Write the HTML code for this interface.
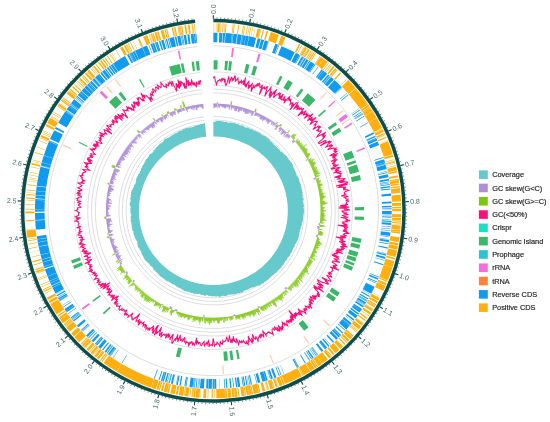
<!DOCTYPE html>
<html><head><meta charset="utf-8"><title>Genome circle map</title>
<style>html,body{margin:0;padding:0;background:#fff}svg{display:block}</style></head>
<body><svg width="550" height="422" viewBox="0 0 550 422" font-family="'Liberation Sans', sans-serif"><rect width="550" height="422" fill="#fff"/><g fill="none" transform="translate(213.35 0) scale(1.0022 1) translate(-213.25 0)"><path d="M213.25 45.80A164.90 164.90 0 1 1 197.50 46.55" stroke="#d0d0d0" stroke-width="0.70"/><path d="M213.25 71.90A138.80 138.80 0 1 1 199.99 72.53" stroke="#d0d0d0" stroke-width="0.70"/><path d="M213.25 85.40A125.30 125.30 0 1 1 201.28 85.97" stroke="#d0d0d0" stroke-width="0.70"/><path d="M213.25 89.10A121.60 121.60 0 1 1 201.64 89.66" stroke="#d0d0d0" stroke-width="0.70"/><path d="M213.25 92.90A117.80 117.80 0 1 1 202.00 93.44" stroke="#d0d0d0" stroke-width="0.70"/><path d="M213.25 116.50A94.20 94.20 0 1 1 204.25 116.93" stroke="#d0d0d0" stroke-width="0.70"/><path d="M213.25 120.00A90.70 90.70 0 1 1 204.59 120.41" stroke="#d0d0d0" stroke-width="0.70"/><path d="M213.25 123.60A87.10 87.10 0 1 1 204.93 124.00" stroke="#d0d0d0" stroke-width="0.70"/><path d="M213.25 20.45A190.25 190.25 0 1 1 195.08 21.32" stroke="#0d4d4b" stroke-width="3.50"/><path d="M213.25 18.70L213.25 15.30M216.91 18.73L216.93 17.34M220.56 18.84L220.62 17.44M224.22 19.01L224.30 17.62M227.87 19.26L227.97 17.86M231.51 19.57L231.64 18.18M235.15 19.95L235.31 18.56M238.78 20.40L238.96 19.02M242.40 20.93L242.61 19.54M246.01 21.52L246.25 20.14M249.61 22.17L250.25 18.83M253.19 22.90L253.48 21.53M256.76 23.70L257.08 22.33M260.31 24.56L260.66 23.20M263.85 25.49L264.22 24.14M267.37 26.49L267.77 25.14M270.87 27.55L271.29 26.21M274.35 28.68L274.79 27.35M277.81 29.88L278.28 28.56M281.24 31.14L281.73 29.83M284.65 32.47L285.91 29.31M288.03 33.86L288.57 32.57M291.38 35.32L291.95 34.04M294.71 36.84L295.30 35.57M298.01 38.42L298.63 37.16M301.27 40.07L301.92 38.82M304.51 41.77L305.17 40.54M307.71 43.54L308.40 42.32M310.88 45.37L311.59 44.17M314.01 47.26L314.74 46.07M317.10 49.21L318.94 46.35M320.16 51.22L320.94 50.06M323.18 53.28L323.98 52.14M326.16 55.41L326.98 54.27M329.10 57.59L329.94 56.47M331.99 59.82L332.86 58.72M334.84 62.11L335.73 61.03M337.65 64.45L338.56 63.39M340.42 66.85L341.34 65.80M343.13 69.30L344.08 68.27M345.80 71.80L348.15 69.34M348.42 74.35L349.41 73.35M351.00 76.95L352.00 75.97M353.52 79.60L354.54 78.64M355.99 82.29L357.03 81.36M358.41 85.03L359.47 84.12M360.78 87.82L361.86 86.93M363.09 90.65L364.19 89.78M365.35 93.53L366.46 92.68M367.56 96.45L368.68 95.62M369.71 99.41L372.48 97.44M371.80 102.41L372.95 101.62M373.83 105.45L375.00 104.68M375.81 108.53L376.99 107.78M377.72 111.64L378.92 110.92M379.58 114.79L380.79 114.10M381.38 117.98L382.60 117.30M383.11 121.20L384.35 120.55M384.79 124.45L386.04 123.82M386.40 127.74L387.66 127.13M387.95 131.05L391.04 129.64M389.43 134.39L390.72 133.83M390.86 137.76L392.15 137.23M392.21 141.16L393.52 140.65M393.51 144.58L394.82 144.10M394.73 148.02L396.06 147.57M395.89 151.49L397.22 151.06M396.99 154.98L398.33 154.58M398.02 158.49L399.36 158.11M398.98 162.02L400.33 161.67M399.87 165.57L403.18 164.77M400.70 169.13L402.06 168.83M401.45 172.71L402.83 172.43M402.14 176.30L403.52 176.05M402.76 179.91L404.15 179.68M403.32 183.52L404.70 183.32M403.80 187.15L405.19 186.98M404.21 190.78L405.61 190.64M404.56 194.42L405.95 194.30M404.83 198.07L406.23 197.98M405.04 201.72L408.44 201.56M405.18 205.38L406.58 205.34M405.24 209.03L406.64 209.02M405.24 212.69L406.64 212.71M405.17 216.35L406.57 216.39M405.02 220.00L406.42 220.07M404.81 223.66L406.21 223.75M404.53 227.30L405.93 227.42M404.18 230.94L405.57 231.09M403.76 234.58L405.15 234.75M403.27 238.20L406.64 238.69M402.71 241.82L404.09 242.04M402.08 245.42L403.46 245.67M401.39 249.01L402.76 249.29M400.63 252.59L401.99 252.89M399.79 256.15L401.15 256.48M398.89 259.69L400.25 260.05M397.93 263.22L399.27 263.60M396.89 266.73L398.23 267.14M395.79 270.22L397.12 270.65M394.63 273.68L397.84 274.80M393.39 277.13L394.71 277.61M392.09 280.55L393.40 281.06M390.73 283.94L392.03 284.48M389.30 287.31L390.59 287.87M387.81 290.65L389.09 291.23M386.26 293.96L387.52 294.57M384.64 297.24L385.89 297.87M382.96 300.49L384.20 301.14M381.22 303.71L382.44 304.38M379.42 306.89L382.36 308.59M377.56 310.04L378.75 310.76M375.63 313.15L376.82 313.90M373.65 316.22L374.82 316.99M371.61 319.26L372.77 320.05M369.52 322.26L370.66 323.07M367.36 325.21L368.49 326.05M365.15 328.13L366.26 328.98M362.89 331.00L363.98 331.88M360.57 333.83L361.64 334.73M358.20 336.61L360.76 338.84M355.77 339.35L356.81 340.29M353.30 342.04L354.32 343.00M350.77 344.69L351.77 345.66M348.19 347.28L349.18 348.28M345.57 349.83L346.53 350.84M342.89 352.32L343.84 353.36M340.17 354.77L341.10 355.82M337.40 357.16L338.31 358.23M334.59 359.50L335.48 360.58M331.73 361.78L333.83 364.46M328.83 364.01L329.68 365.13M325.89 366.18L326.71 367.32M322.91 368.30L323.71 369.45M319.89 370.36L320.67 371.53M316.83 372.37L317.58 373.54M313.73 374.31L314.46 375.50M310.59 376.19L311.30 377.40M307.42 378.02L308.11 379.24M304.22 379.78L304.88 381.01M300.98 381.48L302.54 384.51M297.71 383.12L298.33 384.38M294.41 384.70L295.01 385.97M291.08 386.22L291.65 387.50M287.73 387.67L288.27 388.96M284.34 389.05L284.86 390.35M280.93 390.38L281.43 391.69M277.50 391.63L277.97 392.95M274.04 392.82L274.48 394.15M270.56 393.95L270.98 395.28M267.06 395.01L268.01 398.27M263.54 396.00L263.90 397.35M260.00 396.92L260.34 398.28M256.44 397.78L256.76 399.14M252.87 398.57L253.16 399.94M249.28 399.29L249.55 400.66M245.69 399.94L245.92 401.32M242.08 400.52L242.29 401.91M238.45 401.04L238.64 402.43M234.82 401.48L234.98 402.88M231.19 401.86L231.50 405.25M227.54 402.17L227.64 403.56M223.89 402.40L223.97 403.80M220.24 402.57L220.29 403.97M216.58 402.67L216.61 404.07M212.92 402.70L212.92 404.10M209.27 402.66L209.24 404.06M205.61 402.55L205.55 403.95M201.96 402.37L201.87 403.77M198.31 402.12L198.20 403.51M194.66 401.80L194.34 405.18M191.03 401.41L190.87 402.80M187.40 400.95L187.21 402.34M183.78 400.42L183.56 401.81M180.17 399.83L179.93 401.21M176.57 399.16L176.31 400.54M172.99 398.43L172.70 399.80M169.42 397.63L169.10 398.99M165.87 396.76L165.52 398.12M162.33 395.83L161.96 397.18M158.82 394.82L157.85 398.08M155.32 393.75L154.90 395.09M151.84 392.61L151.39 393.94M148.39 391.41L147.91 392.73M144.96 390.14L144.46 391.45M141.55 388.81L141.03 390.11M138.17 387.41L137.62 388.70M134.82 385.95L134.25 387.23M131.49 384.42L130.90 385.69M128.20 382.84L127.58 384.09M124.94 381.18L123.37 384.20M121.70 379.47L121.04 380.70M118.51 377.70L117.82 378.91M115.34 375.86L114.63 377.07M112.21 373.97L111.48 375.16M109.12 372.01L108.36 373.19M106.07 370.00L105.29 371.16M103.05 367.93L102.25 369.07M100.08 365.80L99.25 366.93M97.14 363.62L96.30 364.73M94.25 361.38L92.15 364.05M91.40 359.08L90.52 360.16M88.60 356.73L87.69 357.80M85.84 354.33L84.91 355.38M83.13 351.88L82.18 352.91M80.46 349.38L79.49 350.39M77.84 346.82L76.86 347.81M75.28 344.22L74.27 345.19M72.76 341.57L71.73 342.52M70.29 338.87L69.25 339.80M67.87 336.12L65.30 338.34M65.51 333.33L64.43 334.22M63.20 330.49L62.11 331.36M60.95 327.61L59.84 328.46M58.75 324.69L57.62 325.52M56.60 321.72L55.46 322.53M54.52 318.72L53.36 319.51M52.49 315.68L51.32 316.44M50.52 312.60L49.33 313.34M48.61 309.48L47.41 310.20M46.76 306.32L43.81 308.02M44.96 303.13L43.74 303.81M43.23 299.91L41.99 300.56M41.57 296.66L40.31 297.28M39.96 293.37L38.70 293.97M38.42 290.05L37.14 290.63M36.94 286.71L35.65 287.26M35.52 283.34L34.22 283.87M34.17 279.94L32.86 280.44M32.88 276.51L31.57 276.99M31.66 273.07L28.45 274.17M30.51 269.60L29.17 270.03M29.42 266.10L28.08 266.51M28.40 262.59L27.05 262.97M27.44 259.06L26.09 259.41M26.55 255.51L25.19 255.84M25.73 251.95L24.37 252.25M24.98 248.37L23.61 248.64M24.30 244.78L22.92 245.02M23.68 241.17L22.30 241.39M23.14 237.55L19.77 238.03M22.66 233.93L21.27 234.10M22.25 230.29L20.86 230.44M21.91 226.65L20.52 226.77M21.64 223.00L20.25 223.09M21.44 219.35L20.05 219.41M21.32 215.70L19.92 215.73M21.25 212.04L19.85 212.05M21.26 208.38L19.86 208.36M21.34 204.72L19.94 204.68M21.49 201.07L18.10 200.90M21.71 197.42L20.31 197.32M22.00 193.77L20.60 193.65M22.35 190.13L20.96 189.98M22.78 186.50L21.39 186.32M23.28 182.88L21.89 182.67M23.84 179.26L22.46 179.03M24.47 175.66L23.10 175.40M25.18 172.07L23.80 171.79M25.95 168.49L24.58 168.19M26.78 164.93L23.48 164.12M27.69 161.39L26.34 161.03M28.66 157.86L27.32 157.48M29.70 154.36L28.36 153.95M30.81 150.87L29.48 150.44M31.98 147.41L30.66 146.95M33.22 143.97L31.91 143.48M34.52 140.55L33.22 140.04M35.89 137.16L34.60 136.62M37.33 133.79L36.04 133.23M38.82 130.45L35.73 129.03M40.38 127.15L39.12 126.54M42.01 123.87L40.76 123.24M43.69 120.62L42.46 119.97M45.44 117.41L44.21 116.73M47.25 114.23L46.04 113.53M49.11 111.08L47.92 110.36M51.04 107.98L49.86 107.23M53.03 104.90L51.86 104.13M55.07 101.87L53.92 101.08M57.17 98.88L54.41 96.90M59.33 95.93L58.21 95.09M61.55 93.01L60.44 92.16M63.82 90.15L62.73 89.27M66.14 87.32L65.07 86.42M68.52 84.54L67.46 83.62M70.95 81.81L69.91 80.87M73.43 79.12L72.41 78.16M75.96 76.48L74.96 75.50M78.54 73.89L77.56 72.89M81.17 71.35L78.83 68.88M83.85 68.86L82.91 67.82M86.58 66.42L85.65 65.37M89.35 64.03L88.44 62.96M92.16 61.70L91.28 60.61M95.02 59.42L94.16 58.31M97.93 57.19L97.09 56.07M100.87 55.02L100.05 53.89M103.86 52.91L103.06 51.76M106.88 50.86L106.11 49.69M109.95 48.86L108.12 45.99M113.05 46.92L112.32 45.73M116.19 45.04L115.48 43.83M119.36 43.22L118.68 42.00M122.57 41.46L121.91 40.23M125.81 39.77L125.17 38.52M129.08 38.13L128.47 36.87M132.38 36.56L131.79 35.29M135.71 35.05L135.15 33.77M139.07 33.61L138.53 32.32M142.46 32.23L141.21 29.07M145.87 30.91L145.38 29.60M149.31 29.66L148.84 28.34M152.77 28.47L152.33 27.15M156.25 27.36L155.84 26.02M159.76 26.30L159.37 24.96M163.28 25.32L162.91 23.97M166.82 24.40L166.48 23.04M170.38 23.55L170.06 22.18M173.95 22.77L173.66 21.39M177.54 22.05L176.90 18.71M181.14 21.40L180.90 20.02M184.75 20.83L184.54 19.44M188.37 20.32L188.19 18.93M192.00 19.88L191.85 18.49" stroke="#0d4d4b" stroke-width="0.6"/><path d="M213.25 18.70L213.25 15.30M249.61 22.17L250.25 18.83M284.65 32.47L285.91 29.31M317.10 49.21L318.94 46.35M345.80 71.80L348.15 69.34M369.71 99.41L372.48 97.44M387.95 131.05L391.04 129.64M399.87 165.57L403.18 164.77M405.04 201.72L408.44 201.56M403.27 238.20L406.64 238.69M394.63 273.68L397.84 274.80M379.42 306.89L382.36 308.59M358.20 336.61L360.76 338.84M331.73 361.78L333.83 364.46M300.98 381.48L302.54 384.51M267.06 395.01L268.01 398.27M231.19 401.86L231.50 405.25M194.66 401.80L194.34 405.18M158.82 394.82L157.85 398.08M124.94 381.18L123.37 384.20M94.25 361.38L92.15 364.05M67.87 336.12L65.30 338.34M46.76 306.32L43.81 308.02M31.66 273.07L28.45 274.17M23.14 237.55L19.77 238.03M21.49 201.07L18.10 200.90M26.78 164.93L23.48 164.12M38.82 130.45L35.73 129.03M57.17 98.88L54.41 96.90M81.17 71.35L78.83 68.88M109.95 48.86L108.12 45.99M142.46 32.23L141.21 29.07M177.54 22.05L176.90 18.71" stroke="#0d4d4b" stroke-width="1.0"/><g font-size="7" fill="#476767" stroke="none"><text x="213.25" y="14.10" transform="rotate(-90.00 213.25 14.10)" text-anchor="start" dy="0.36em">0.0</text><text x="250.48" y="17.66" transform="rotate(-79.08 250.48 17.66)" text-anchor="start" dy="0.36em">0.1</text><text x="286.36" y="28.20" transform="rotate(-68.17 286.36 28.20)" text-anchor="start" dy="0.36em">0.2</text><text x="319.59" y="45.34" transform="rotate(-57.25 319.59 45.34)" text-anchor="start" dy="0.36em">0.3</text><text x="348.98" y="68.47" transform="rotate(-46.34 348.98 68.47)" text-anchor="start" dy="0.36em">0.4</text><text x="373.45" y="96.74" transform="rotate(-35.42 373.45 96.74)" text-anchor="start" dy="0.36em">0.5</text><text x="392.13" y="129.14" transform="rotate(-24.51 392.13 129.14)" text-anchor="start" dy="0.36em">0.6</text><text x="404.34" y="164.49" transform="rotate(-13.59 404.34 164.49)" text-anchor="start" dy="0.36em">0.7</text><text x="409.63" y="201.51" transform="rotate(-2.68 409.63 201.51)" text-anchor="start" dy="0.36em">0.8</text><text x="407.82" y="238.86" transform="rotate(8.24 407.82 238.86)" text-anchor="start" dy="0.36em">0.9</text><text x="398.97" y="275.19" transform="rotate(19.15 398.97 275.19)" text-anchor="start" dy="0.36em">1.0</text><text x="383.40" y="309.19" transform="rotate(30.07 383.40 309.19)" text-anchor="start" dy="0.36em">1.1</text><text x="361.67" y="339.63" transform="rotate(40.98 361.67 339.63)" text-anchor="start" dy="0.36em">1.2</text><text x="334.57" y="365.40" transform="rotate(51.90 334.57 365.40)" text-anchor="start" dy="0.36em">1.3</text><text x="303.08" y="385.57" transform="rotate(62.81 303.08 385.57)" text-anchor="start" dy="0.36em">1.4</text><text x="268.35" y="399.42" transform="rotate(73.73 268.35 399.42)" text-anchor="start" dy="0.36em">1.5</text><text x="231.62" y="406.44" transform="rotate(84.64 231.62 406.44)" text-anchor="start" dy="0.36em">1.6</text><text x="194.22" y="406.38" transform="rotate(-84.44 194.22 406.38)" text-anchor="end" dy="0.36em">1.7</text><text x="157.51" y="399.23" transform="rotate(-73.53 157.51 399.23)" text-anchor="end" dy="0.36em">1.8</text><text x="122.82" y="385.27" transform="rotate(-62.61 122.82 385.27)" text-anchor="end" dy="0.36em">1.9</text><text x="91.40" y="364.99" transform="rotate(-51.70 91.40 364.99)" text-anchor="end" dy="0.36em">2.0</text><text x="64.39" y="339.12" transform="rotate(-40.78 64.39 339.12)" text-anchor="end" dy="0.36em">2.1</text><text x="42.77" y="308.61" transform="rotate(-29.87 42.77 308.61)" text-anchor="end" dy="0.36em">2.2</text><text x="27.31" y="274.56" transform="rotate(-18.95 27.31 274.56)" text-anchor="end" dy="0.36em">2.3</text><text x="18.58" y="238.20" transform="rotate(-8.04 18.58 238.20)" text-anchor="end" dy="0.36em">2.4</text><text x="16.90" y="200.84" transform="rotate(2.88 16.90 200.84)" text-anchor="end" dy="0.36em">2.5</text><text x="22.32" y="163.84" transform="rotate(13.79 22.32 163.84)" text-anchor="end" dy="0.36em">2.6</text><text x="34.64" y="128.53" transform="rotate(24.71 34.64 128.53)" text-anchor="end" dy="0.36em">2.7</text><text x="53.43" y="96.20" transform="rotate(35.62 53.43 96.20)" text-anchor="end" dy="0.36em">2.8</text><text x="78.01" y="68.01" transform="rotate(46.54 78.01 68.01)" text-anchor="end" dy="0.36em">2.9</text><text x="107.47" y="44.98" transform="rotate(57.45 107.47 44.98)" text-anchor="end" dy="0.36em">3.0</text><text x="140.77" y="27.95" transform="rotate(68.37 140.77 27.95)" text-anchor="end" dy="0.36em">3.1</text><text x="176.68" y="17.53" transform="rotate(79.28 176.68 17.53)" text-anchor="end" dy="0.36em">3.2</text></g><path d="M213.558 27.700A183.0 183.0 0 0 1 214.086 27.702M216.110 27.722A183.0 183.0 0 0 1 216.485 27.729M217.295 27.745A183.0 183.0 0 0 1 219.505 27.807M220.159 27.830A183.0 183.0 0 0 1 220.694 27.851M222.271 27.923A183.0 183.0 0 0 1 223.261 27.974M224.118 28.023A183.0 183.0 0 0 1 224.628 28.054M225.085 28.083A183.0 183.0 0 0 1 226.064 28.149M232.179 28.682A183.0 183.0 0 0 1 232.826 28.750M233.249 28.796A183.0 183.0 0 0 1 234.035 28.884M237.454 29.308A183.0 183.0 0 0 1 238.439 29.442M242.224 30.008A183.0 183.0 0 0 1 243.019 30.138M243.572 30.230A183.0 183.0 0 0 1 244.240 30.343M246.230 30.696A183.0 183.0 0 0 1 246.873 30.815M248.015 31.033A183.0 183.0 0 0 1 248.553 31.138M249.510 31.328A183.0 183.0 0 0 1 250.212 31.472M251.453 31.732A183.0 183.0 0 0 1 251.948 31.838M253.852 32.261A183.0 183.0 0 0 1 254.213 32.344M256.364 32.851A183.0 183.0 0 0 1 259.058 33.526M259.369 33.607A183.0 183.0 0 0 1 259.794 33.718M261.549 34.189A183.0 183.0 0 0 1 262.614 34.484M265.168 35.219A183.0 183.0 0 0 1 266.629 35.658M269.179 36.456A183.0 183.0 0 0 1 277.072 39.190M279.479 40.105A183.0 183.0 0 0 1 283.418 41.687M296.627 47.798A183.0 183.0 0 0 1 298.078 48.548M299.134 49.105A183.0 183.0 0 0 1 299.595 49.351M301.636 50.460A183.0 183.0 0 0 1 302.337 50.848M302.579 50.984A183.0 183.0 0 0 1 304.374 52.001M304.734 52.208A183.0 183.0 0 0 1 305.173 52.462M305.563 52.689A183.0 183.0 0 0 1 306.031 52.964M306.179 53.051A183.0 183.0 0 0 1 307.127 53.614M308.181 54.248A183.0 183.0 0 0 1 308.993 54.744M309.515 55.066A183.0 183.0 0 0 1 310.305 55.557M310.896 55.928A183.0 183.0 0 0 1 311.818 56.514M312.405 56.891A183.0 183.0 0 0 1 313.172 57.388M316.884 59.872A183.0 183.0 0 0 1 317.415 60.239M317.766 60.482A183.0 183.0 0 0 1 320.687 62.557M320.845 62.672A183.0 183.0 0 0 1 324.599 65.475M325.463 66.141A183.0 183.0 0 0 1 325.985 66.548M327.068 67.401A183.0 183.0 0 0 1 327.584 67.813M328.335 68.417A183.0 183.0 0 0 1 328.771 68.771M329.831 69.640A183.0 183.0 0 0 1 331.180 70.766M332.069 71.520A183.0 183.0 0 0 1 333.162 72.460M333.478 72.735A183.0 183.0 0 0 1 334.217 73.382M336.709 75.619A183.0 183.0 0 0 1 337.754 76.582M343.369 82.022A183.0 183.0 0 0 1 343.676 82.333M344.616 83.295A183.0 183.0 0 0 1 351.756 91.096M352.011 91.392A183.0 183.0 0 0 1 363.863 106.755M364.062 107.043A183.0 183.0 0 0 1 365.263 108.812M365.473 109.127A183.0 183.0 0 0 1 366.259 110.315M366.405 110.538A183.0 183.0 0 0 1 368.167 113.284M368.327 113.540A183.0 183.0 0 0 1 372.146 119.920M372.284 120.161A183.0 183.0 0 0 1 377.566 130.144M377.815 130.654A183.0 183.0 0 0 1 378.061 131.161M378.208 131.467A183.0 183.0 0 0 1 379.275 133.728M379.707 134.667A183.0 183.0 0 0 1 380.250 135.867M380.417 136.241A183.0 183.0 0 0 1 380.689 136.854M381.389 138.462A183.0 183.0 0 0 1 381.895 139.652M382.957 142.227A183.0 183.0 0 0 1 383.126 142.647M383.263 142.991A183.0 183.0 0 0 1 387.792 155.710M387.918 156.109A183.0 183.0 0 0 1 388.486 157.962M389.245 160.553A183.0 183.0 0 0 1 389.396 161.086M389.628 161.918A183.0 183.0 0 0 1 389.786 162.490M389.870 162.799A183.0 183.0 0 0 1 390.085 163.601M390.329 164.527A183.0 183.0 0 0 1 390.430 164.914M390.796 166.355A183.0 183.0 0 0 1 390.907 166.801M391.141 167.759A183.0 183.0 0 0 1 391.964 171.326M392.050 171.719A183.0 183.0 0 0 1 392.402 173.369M392.958 176.145A183.0 183.0 0 0 1 393.322 178.094M393.579 179.550A183.0 183.0 0 0 1 393.799 180.849M393.838 181.089A183.0 183.0 0 0 1 394.219 183.513M394.281 183.926A183.0 183.0 0 0 1 394.510 185.523M394.643 186.499A183.0 183.0 0 0 1 394.838 188.014M394.911 188.603A183.0 183.0 0 0 1 395.419 193.283M395.585 195.118A183.0 183.0 0 0 1 396.020 201.519M396.084 202.908A183.0 183.0 0 0 1 396.187 205.886M396.212 206.984A183.0 183.0 0 0 1 396.235 208.378M396.241 208.934A183.0 183.0 0 0 1 396.249 211.223M396.216 214.203A183.0 183.0 0 0 1 396.140 217.054M396.116 217.706A183.0 183.0 0 0 1 396.008 220.110M395.993 220.397A183.0 183.0 0 0 1 395.936 221.420M395.884 222.262A183.0 183.0 0 0 1 395.811 223.364M395.747 224.259A183.0 183.0 0 0 1 395.719 224.636M395.679 225.142A183.0 183.0 0 0 1 395.299 229.331M395.267 229.644A183.0 183.0 0 0 1 395.089 231.280M395.064 231.498A183.0 183.0 0 0 1 394.864 233.181M394.414 236.559A183.0 183.0 0 0 1 393.659 241.383M393.481 242.412A183.0 183.0 0 0 1 393.080 244.616M392.999 245.040A183.0 183.0 0 0 1 392.262 248.695M392.094 249.477A183.0 183.0 0 0 1 390.568 255.947M390.357 256.767A183.0 183.0 0 0 1 389.919 258.418M389.461 260.081A183.0 183.0 0 0 1 387.705 265.968M387.623 266.225A183.0 183.0 0 0 1 383.097 278.824M382.981 279.115A183.0 183.0 0 0 1 382.499 280.296M381.990 281.523A183.0 183.0 0 0 1 381.094 283.620M380.900 284.064A183.0 183.0 0 0 1 378.626 289.056M376.047 294.282A183.0 183.0 0 0 1 375.853 294.660M375.266 295.787A183.0 183.0 0 0 1 373.771 298.574M373.459 299.142A183.0 183.0 0 0 1 372.384 301.063M371.884 301.938A183.0 183.0 0 0 1 371.280 302.979M371.135 303.228A183.0 183.0 0 0 1 370.734 303.908M370.604 304.127A183.0 183.0 0 0 1 369.991 305.153M369.165 306.509A183.0 183.0 0 0 1 368.855 307.013M368.723 307.226A183.0 183.0 0 0 1 367.663 308.912M366.875 310.141A183.0 183.0 0 0 1 365.705 311.925M364.938 313.071A183.0 183.0 0 0 1 364.609 313.557M363.431 315.270A183.0 183.0 0 0 1 362.605 316.445M361.852 317.501A183.0 183.0 0 0 1 361.154 318.466M359.718 320.410A183.0 183.0 0 0 1 359.474 320.734M359.268 321.007A183.0 183.0 0 0 1 357.882 322.819M357.195 323.699A183.0 183.0 0 0 1 354.975 326.471M354.423 327.144A183.0 183.0 0 0 1 354.099 327.535M353.682 328.037A183.0 183.0 0 0 1 353.195 328.617M352.887 328.982A183.0 183.0 0 0 1 352.498 329.439M349.751 332.587A183.0 183.0 0 0 1 348.725 333.726M348.461 334.017A183.0 183.0 0 0 1 346.429 336.209M345.832 336.839A183.0 183.0 0 0 1 344.154 338.579M343.646 339.098A183.0 183.0 0 0 1 343.105 339.645M341.949 340.799A183.0 183.0 0 0 1 341.053 341.678M339.384 343.286A183.0 183.0 0 0 1 336.947 345.563M336.070 346.362A183.0 183.0 0 0 1 332.195 349.772M331.399 350.449A183.0 183.0 0 0 1 329.897 351.705M328.751 352.646A183.0 183.0 0 0 1 328.237 353.062M327.936 353.305A183.0 183.0 0 0 1 325.924 354.900M324.674 355.868A183.0 183.0 0 0 1 319.101 359.980M318.891 360.129A183.0 183.0 0 0 1 315.614 362.392M315.160 362.698A183.0 183.0 0 0 1 314.236 363.313M313.945 363.505A183.0 183.0 0 0 1 312.288 364.584M311.864 364.857A183.0 183.0 0 0 1 307.951 367.291M307.498 367.564A183.0 183.0 0 0 1 300.814 371.391M300.515 371.554A183.0 183.0 0 0 1 299.930 371.869M299.294 372.210A183.0 183.0 0 0 1 283.066 379.859M282.774 379.979A183.0 183.0 0 0 1 281.190 380.621M280.804 380.775A183.0 183.0 0 0 1 277.653 381.993M276.758 382.327A183.0 183.0 0 0 1 276.295 382.497M275.951 382.623A183.0 183.0 0 0 1 274.223 383.244M272.876 383.714A183.0 183.0 0 0 1 272.063 383.992M271.858 384.061A183.0 183.0 0 0 1 268.873 385.042M267.679 385.418A183.0 183.0 0 0 1 267.091 385.600M266.883 385.664A183.0 183.0 0 0 1 266.378 385.818M266.132 385.893A183.0 183.0 0 0 1 265.739 386.011M263.849 386.566A183.0 183.0 0 0 1 261.352 387.265M259.172 387.845A183.0 183.0 0 0 1 257.967 388.152M257.767 388.203A183.0 183.0 0 0 1 252.704 389.396M252.000 389.550A183.0 183.0 0 0 1 250.909 389.783M250.624 389.843A183.0 183.0 0 0 1 248.221 390.327M248.037 390.363A183.0 183.0 0 0 1 245.852 390.772M245.178 390.893A183.0 183.0 0 0 1 244.223 391.060M243.836 391.126A183.0 183.0 0 0 1 240.743 391.623M238.752 391.914A183.0 183.0 0 0 1 237.702 392.059M236.735 392.187A183.0 183.0 0 0 1 234.314 392.484M233.940 392.527A183.0 183.0 0 0 1 231.716 392.766M230.701 392.866A183.0 183.0 0 0 1 227.559 393.140M226.789 393.198A183.0 183.0 0 0 1 225.110 393.315M224.834 393.333A183.0 183.0 0 0 1 216.160 393.677M214.376 393.697A183.0 183.0 0 0 1 213.669 393.700M212.730 393.699A183.0 183.0 0 0 1 211.514 393.692M208.308 393.633A183.0 183.0 0 0 1 207.527 393.610M206.094 393.560A183.0 183.0 0 0 1 203.383 393.434M200.602 393.262A183.0 183.0 0 0 1 200.181 393.233M199.729 393.200A183.0 183.0 0 0 1 195.804 392.866M195.407 392.828A183.0 183.0 0 0 1 193.919 392.676M193.590 392.641A183.0 183.0 0 0 1 192.744 392.547M192.545 392.525A183.0 183.0 0 0 1 191.806 392.439M190.719 392.308A183.0 183.0 0 0 1 190.009 392.218M188.870 392.069A183.0 183.0 0 0 1 185.440 391.575M185.073 391.518A183.0 183.0 0 0 1 184.332 391.401M183.760 391.308A183.0 183.0 0 0 1 179.508 390.562M178.574 390.385A183.0 183.0 0 0 1 176.571 389.987M175.694 389.805A183.0 183.0 0 0 1 171.360 388.841M169.861 388.482A183.0 183.0 0 0 1 168.339 388.104M167.980 388.012A183.0 183.0 0 0 1 164.691 387.140M163.810 386.895A183.0 183.0 0 0 1 162.187 386.432M161.234 386.152A183.0 183.0 0 0 1 159.960 385.769M159.606 385.661A183.0 183.0 0 0 1 157.709 385.068M157.188 384.901A183.0 183.0 0 0 1 152.808 383.430M152.486 383.317A183.0 183.0 0 0 1 119.337 367.765M119.143 367.649A183.0 183.0 0 0 1 106.344 359.226M105.194 358.392A183.0 183.0 0 0 1 104.291 357.727M103.790 357.355A183.0 183.0 0 0 1 102.854 356.651M101.727 355.792A183.0 183.0 0 0 1 99.863 354.339M99.276 353.874A183.0 183.0 0 0 1 97.440 352.393M96.988 352.023A183.0 183.0 0 0 1 96.539 351.652M95.958 351.169A183.0 183.0 0 0 1 95.525 350.807M95.314 350.628A183.0 183.0 0 0 1 93.751 349.296M93.114 348.745A183.0 183.0 0 0 1 92.498 348.207M91.849 347.634A183.0 183.0 0 0 1 89.869 345.852M88.906 344.967A183.0 183.0 0 0 1 88.635 344.715M88.390 344.487A183.0 183.0 0 0 1 86.954 343.132M86.728 342.917A183.0 183.0 0 0 1 85.355 341.589M84.974 341.216A183.0 183.0 0 0 1 84.134 340.384M82.827 339.070A183.0 183.0 0 0 1 77.872 333.833M77.471 333.391A183.0 183.0 0 0 1 74.760 330.322M73.416 328.748A183.0 183.0 0 0 1 69.979 324.552M69.840 324.377A183.0 183.0 0 0 1 69.596 324.068M69.362 323.772A183.0 183.0 0 0 1 68.704 322.930M68.510 322.679A183.0 183.0 0 0 1 67.963 321.969M67.855 321.827A183.0 183.0 0 0 1 67.343 321.154M66.898 320.564A183.0 183.0 0 0 1 64.182 316.849M64.081 316.708A183.0 183.0 0 0 1 62.838 314.936M62.244 314.075A183.0 183.0 0 0 1 61.547 313.048M60.769 311.885A183.0 183.0 0 0 1 54.526 301.780M54.090 301.016A183.0 183.0 0 0 1 52.737 298.589M52.261 297.715A183.0 183.0 0 0 1 51.120 295.570M49.230 291.856A183.0 183.0 0 0 1 49.018 291.427M48.404 290.166A183.0 183.0 0 0 1 48.109 289.550M47.977 289.274A183.0 183.0 0 0 1 47.791 288.882M47.501 288.265A183.0 183.0 0 0 1 47.135 287.478M46.184 285.385A183.0 183.0 0 0 1 45.948 284.855M45.307 283.391A183.0 183.0 0 0 1 45.025 282.736M43.281 278.521A183.0 183.0 0 0 1 43.059 277.962M42.710 277.072A183.0 183.0 0 0 1 42.518 276.576M40.891 272.194A183.0 183.0 0 0 1 40.696 271.644M40.528 271.166A183.0 183.0 0 0 1 40.017 269.687M39.835 269.148A183.0 183.0 0 0 1 39.667 268.649M39.583 268.395A183.0 183.0 0 0 1 39.380 267.779M38.216 264.104A183.0 183.0 0 0 1 37.996 263.380M37.399 261.351A183.0 183.0 0 0 1 37.019 260.013M36.068 256.476A183.0 183.0 0 0 1 35.917 255.890M34.934 251.839A183.0 183.0 0 0 1 34.841 251.434M34.103 248.055A183.0 183.0 0 0 1 33.954 247.331M33.224 243.560A183.0 183.0 0 0 1 33.119 242.979M32.711 240.610A183.0 183.0 0 0 1 32.583 239.826M32.435 238.892A183.0 183.0 0 0 1 32.349 238.336M32.172 237.151A183.0 183.0 0 0 1 31.279 230.080M31.224 229.559A183.0 183.0 0 0 1 31.181 229.136M30.540 221.005A183.0 183.0 0 0 1 30.482 219.921M30.267 213.215A183.0 183.0 0 0 1 30.252 211.514M30.253 209.610A183.0 183.0 0 0 1 30.259 208.888M30.346 204.785A183.0 183.0 0 0 1 30.364 204.246M30.533 200.526A183.0 183.0 0 0 1 30.568 199.909M30.635 198.840A183.0 183.0 0 0 1 30.709 197.753M30.848 195.917A183.0 183.0 0 0 1 30.881 195.514M30.914 195.125A183.0 183.0 0 0 1 30.979 194.386M31.108 192.996A183.0 183.0 0 0 1 31.148 192.593M31.349 190.677A183.0 183.0 0 0 1 31.420 190.038M31.973 185.650A183.0 183.0 0 0 1 32.077 184.907M32.548 181.791A183.0 183.0 0 0 1 32.615 181.375M32.847 179.979A183.0 183.0 0 0 1 32.944 179.417M33.105 178.499A183.0 183.0 0 0 1 33.180 178.083M33.600 175.846A183.0 183.0 0 0 1 33.704 175.311M34.119 173.270A183.0 183.0 0 0 1 34.224 172.769M35.307 167.977A183.0 183.0 0 0 1 35.420 167.507M35.891 165.613A183.0 183.0 0 0 1 36.315 163.979M36.692 162.571A183.0 183.0 0 0 1 36.820 162.104M37.047 161.287A183.0 183.0 0 0 1 37.226 160.654M39.227 154.089A183.0 183.0 0 0 1 39.463 153.367M41.111 148.594A183.0 183.0 0 0 1 41.265 148.169M43.463 142.427A183.0 183.0 0 0 1 43.638 141.991M44.523 139.846A183.0 183.0 0 0 1 44.804 139.182M44.996 138.731A183.0 183.0 0 0 1 45.829 136.814M46.363 135.615A183.0 183.0 0 0 1 46.552 135.197M47.061 134.084A183.0 183.0 0 0 1 47.248 133.678M47.613 132.896A183.0 183.0 0 0 1 47.826 132.444M49.967 128.071A183.0 183.0 0 0 1 50.933 126.189M51.449 125.205A183.0 183.0 0 0 1 54.233 120.132M54.660 119.386A183.0 183.0 0 0 1 54.895 118.979M55.186 118.478A183.0 183.0 0 0 1 55.404 118.106M56.588 116.117A183.0 183.0 0 0 1 56.859 115.669M57.541 114.555A183.0 183.0 0 0 1 57.778 114.172M61.212 108.850A183.0 183.0 0 0 1 61.608 108.261M61.905 107.823A183.0 183.0 0 0 1 62.904 106.368M63.105 106.080A183.0 183.0 0 0 1 63.343 105.738M64.949 103.482A183.0 183.0 0 0 1 65.655 102.511M65.904 102.173A183.0 183.0 0 0 1 66.440 101.449M66.811 100.951A183.0 183.0 0 0 1 67.365 100.217M70.370 96.358A183.0 183.0 0 0 1 72.103 94.225M72.279 94.012A183.0 183.0 0 0 1 72.921 93.240M73.399 92.671A183.0 183.0 0 0 1 74.244 91.678M75.586 90.128A183.0 183.0 0 0 1 76.489 89.105M77.641 87.821A183.0 183.0 0 0 1 78.297 87.102M79.574 85.721A183.0 183.0 0 0 1 79.894 85.379M80.759 84.466A183.0 183.0 0 0 1 81.258 83.944M81.938 83.239A183.0 183.0 0 0 1 82.270 82.899M82.633 82.528A183.0 183.0 0 0 1 83.973 81.176M85.056 80.104A183.0 183.0 0 0 1 85.567 79.605M86.025 79.159A183.0 183.0 0 0 1 86.773 78.440M88.070 77.213A183.0 183.0 0 0 1 89.474 75.910M89.949 75.475A183.0 183.0 0 0 1 90.369 75.093M90.685 74.808A183.0 183.0 0 0 1 92.382 73.296M93.728 72.123A183.0 183.0 0 0 1 94.185 71.731M94.936 71.090A183.0 183.0 0 0 1 95.381 70.715M96.092 70.119A183.0 183.0 0 0 1 97.310 69.113M98.520 68.131A183.0 183.0 0 0 1 99.280 67.522M100.906 66.243A183.0 183.0 0 0 1 102.185 65.257M102.871 64.736A183.0 183.0 0 0 1 104.145 63.781M105.216 62.992A183.0 183.0 0 0 1 106.182 62.291M107.168 61.584A183.0 183.0 0 0 1 107.994 61.000M109.573 59.902A183.0 183.0 0 0 1 110.353 59.368M111.989 58.269A183.0 183.0 0 0 1 112.327 58.045M112.714 57.790A183.0 183.0 0 0 1 113.169 57.492M114.105 56.884A183.0 183.0 0 0 1 114.390 56.701M118.320 54.248A183.0 183.0 0 0 1 118.674 54.034M122.413 51.836A183.0 183.0 0 0 1 124.819 50.485M126.059 49.806A183.0 183.0 0 0 1 127.611 48.975M128.091 48.722A183.0 183.0 0 0 1 128.681 48.413M128.929 48.284A183.0 183.0 0 0 1 129.342 48.070M129.911 47.778A183.0 183.0 0 0 1 130.526 47.465M132.207 46.624A183.0 183.0 0 0 1 132.955 46.256M135.007 45.270A183.0 183.0 0 0 1 135.386 45.091M139.520 43.210A183.0 183.0 0 0 1 139.931 43.030M140.107 42.953A183.0 183.0 0 0 1 141.236 42.465M144.979 40.912A183.0 183.0 0 0 1 146.941 40.136M147.097 40.075A183.0 183.0 0 0 1 148.843 39.409M150.229 38.894A183.0 183.0 0 0 1 150.882 38.656M151.628 38.387A183.0 183.0 0 0 1 152.037 38.241M152.302 38.148A183.0 183.0 0 0 1 153.493 37.731M153.827 37.616A183.0 183.0 0 0 1 154.873 37.261M155.804 36.950A183.0 183.0 0 0 1 157.542 36.385M157.736 36.323A183.0 183.0 0 0 1 158.234 36.166M158.603 36.050A183.0 183.0 0 0 1 159.844 35.666M161.880 35.058A183.0 183.0 0 0 1 164.648 34.272M165.540 34.029A183.0 183.0 0 0 1 166.738 33.709M167.263 33.572A183.0 183.0 0 0 1 168.284 33.310M172.647 32.261A183.0 183.0 0 0 1 173.895 31.982M174.309 31.891A183.0 183.0 0 0 1 174.699 31.807M175.055 31.730A183.0 183.0 0 0 1 176.278 31.474M178.325 31.064A183.0 183.0 0 0 1 178.872 30.958M179.106 30.914A183.0 183.0 0 0 1 180.252 30.700M180.561 30.643A183.0 183.0 0 0 1 181.366 30.499M181.749 30.432A183.0 183.0 0 0 1 182.927 30.230M185.017 29.891A183.0 183.0 0 0 1 186.706 29.635M188.389 29.397A183.0 183.0 0 0 1 190.141 29.165M191.990 28.939A183.0 183.0 0 0 1 192.502 28.880M192.697 28.858A183.0 183.0 0 0 1 193.397 28.780M194.360 28.678A183.0 183.0 0 0 1 195.144 28.598" stroke="#ffb010" stroke-width="9.2"/><path d="M213.250 37.500A173.2 173.2 0 0 1 217.259 37.546M218.984 37.595A173.2 173.2 0 0 1 221.999 37.721M222.536 37.749A173.2 173.2 0 0 1 224.668 37.877M225.160 37.910A173.2 173.2 0 0 1 231.357 38.449M231.609 38.476A173.2 173.2 0 0 1 232.378 38.560M232.724 38.598A173.2 173.2 0 0 1 236.356 39.048M236.910 39.124A173.2 173.2 0 0 1 240.844 39.712M241.221 39.774A173.2 173.2 0 0 1 242.162 39.930M242.367 39.965A173.2 173.2 0 0 1 244.680 40.376M244.858 40.409A173.2 173.2 0 0 1 247.752 40.971M248.059 41.034A173.2 173.2 0 0 1 254.803 42.558M256.411 42.964A173.2 173.2 0 0 1 259.172 43.699M259.757 43.861A173.2 173.2 0 0 1 262.559 44.667M263.237 44.870A173.2 173.2 0 0 1 266.387 45.852M266.628 45.930A173.2 173.2 0 0 1 267.036 46.063M273.455 48.301A173.2 173.2 0 0 1 276.108 49.309M276.543 49.479A173.2 173.2 0 0 1 277.199 49.738M279.460 50.655A173.2 173.2 0 0 1 292.348 56.617M293.339 57.129A173.2 173.2 0 0 1 297.068 59.132M297.375 59.302A173.2 173.2 0 0 1 297.954 59.625M299.319 60.399A173.2 173.2 0 0 1 300.763 61.235M300.909 61.321A173.2 173.2 0 0 1 301.353 61.582M301.939 61.930A173.2 173.2 0 0 1 303.244 62.716M303.689 62.987A173.2 173.2 0 0 1 305.808 64.306M306.370 64.663A173.2 173.2 0 0 1 307.262 65.235M307.670 65.500A173.2 173.2 0 0 1 311.473 68.045M311.689 68.194A173.2 173.2 0 0 1 312.353 68.655M314.759 70.364A173.2 173.2 0 0 1 315.254 70.724M318.498 73.146A173.2 173.2 0 0 1 319.602 73.998M319.814 74.163A173.2 173.2 0 0 1 321.113 75.187M321.303 75.338A173.2 173.2 0 0 1 323.758 77.335M324.703 78.123A173.2 173.2 0 0 1 325.858 79.103M326.139 79.345A173.2 173.2 0 0 1 326.474 79.633M326.614 79.754A173.2 173.2 0 0 1 327.202 80.266M327.608 80.621A173.2 173.2 0 0 1 330.252 82.994M330.934 83.622A173.2 173.2 0 0 1 337.720 90.261M338.043 90.596A173.2 173.2 0 0 1 338.413 90.982M342.978 95.945A173.2 173.2 0 0 1 343.270 96.276M344.196 97.336A173.2 173.2 0 0 1 344.711 97.934M354.847 110.958A173.2 173.2 0 0 1 355.034 111.223M355.681 112.152A173.2 173.2 0 0 1 356.101 112.762M357.029 114.129A173.2 173.2 0 0 1 357.434 114.735M357.943 115.504A173.2 173.2 0 0 1 358.320 116.080M358.485 116.334A173.2 173.2 0 0 1 358.762 116.761M359.752 118.313A173.2 173.2 0 0 1 360.121 118.901M363.540 124.612A173.2 173.2 0 0 1 363.863 125.178M368.678 134.278A173.2 173.2 0 0 1 369.457 135.883M370.298 137.665A173.2 173.2 0 0 1 370.865 138.896M371.234 139.712A173.2 173.2 0 0 1 371.557 140.435M371.644 140.633A173.2 173.2 0 0 1 372.459 142.505M372.782 143.262A173.2 173.2 0 0 1 374.232 146.803M378.379 158.444A173.2 173.2 0 0 1 378.615 159.197M379.040 160.579A173.2 173.2 0 0 1 379.873 163.424M379.918 163.584A173.2 173.2 0 0 1 380.234 164.717M380.287 164.907A173.2 173.2 0 0 1 380.463 165.555M380.570 165.953A173.2 173.2 0 0 1 381.658 170.240M382.096 172.107A173.2 173.2 0 0 1 382.195 172.545M382.351 173.244A173.2 173.2 0 0 1 382.518 174.004M382.765 175.165A173.2 173.2 0 0 1 383.369 178.179M383.644 179.650A173.2 173.2 0 0 1 383.955 181.409M384.097 182.250A173.2 173.2 0 0 1 384.196 182.850M384.282 183.381A173.2 173.2 0 0 1 384.363 183.896M384.499 184.777A173.2 173.2 0 0 1 384.616 185.560M384.778 186.692A173.2 173.2 0 0 1 384.958 188.017M385.086 189.009A173.2 173.2 0 0 1 385.208 189.999M385.647 194.041A173.2 173.2 0 0 1 385.840 196.173M386.223 201.844A173.2 173.2 0 0 1 386.302 203.551M386.385 205.944A173.2 173.2 0 0 1 386.418 207.362M386.434 208.334A173.2 173.2 0 0 1 386.444 209.205M386.450 211.024A173.2 173.2 0 0 1 386.415 214.188M386.406 214.601A173.2 173.2 0 0 1 386.398 214.939M386.383 215.521A173.2 173.2 0 0 1 386.369 216.009M386.352 216.522A173.2 173.2 0 0 1 386.316 217.510M386.232 219.396A173.2 173.2 0 0 1 386.196 220.077M386.165 220.632A173.2 173.2 0 0 1 386.092 221.830M386.050 222.465A173.2 173.2 0 0 1 385.892 224.595M385.763 226.107A173.2 173.2 0 0 1 385.720 226.590M385.567 228.169A173.2 173.2 0 0 1 385.502 228.798M385.375 229.968A173.2 173.2 0 0 1 385.308 230.560M385.160 231.801A173.2 173.2 0 0 1 384.688 235.345M384.585 236.052A173.2 173.2 0 0 1 384.518 236.496M384.180 238.648A173.2 173.2 0 0 1 384.121 239.007M384.033 239.532A173.2 173.2 0 0 1 383.720 241.328M383.488 242.593A173.2 173.2 0 0 1 383.337 243.390M382.716 246.472A173.2 173.2 0 0 1 382.470 247.619M381.379 252.305A173.2 173.2 0 0 1 381.262 252.772M381.125 253.318A173.2 173.2 0 0 1 380.829 254.465M380.509 255.673A173.2 173.2 0 0 1 379.977 257.608M379.604 258.913A173.2 173.2 0 0 1 379.494 259.293M378.426 262.807A173.2 173.2 0 0 1 378.100 263.828M374.064 275.020A173.2 173.2 0 0 1 373.812 275.648M373.503 276.406A173.2 173.2 0 0 1 372.883 277.897M372.180 279.544A173.2 173.2 0 0 1 371.843 280.318M371.511 281.069A173.2 173.2 0 0 1 371.320 281.495M369.843 284.706A173.2 173.2 0 0 1 366.505 291.392M366.089 292.178A173.2 173.2 0 0 1 365.871 292.585M365.280 293.677A173.2 173.2 0 0 1 364.781 294.584M363.945 296.078A173.2 173.2 0 0 1 363.291 297.222M362.922 297.859A173.2 173.2 0 0 1 362.573 298.455M362.390 298.765A173.2 173.2 0 0 1 362.069 299.307M361.685 299.949A173.2 173.2 0 0 1 360.728 301.520M360.636 301.670A173.2 173.2 0 0 1 360.309 302.199M360.049 302.615A173.2 173.2 0 0 1 359.820 302.980M359.496 303.493A173.2 173.2 0 0 1 358.542 304.979M357.655 306.331A173.2 173.2 0 0 1 356.714 307.738M356.601 307.905A173.2 173.2 0 0 1 355.268 309.842M354.707 310.640A173.2 173.2 0 0 1 353.791 311.925M353.333 312.558A173.2 173.2 0 0 1 351.323 315.266M350.239 316.683A173.2 173.2 0 0 1 349.346 317.827M348.888 318.406A173.2 173.2 0 0 1 348.616 318.748M347.494 320.139A173.2 173.2 0 0 1 346.040 321.899M345.809 322.173A173.2 173.2 0 0 1 345.269 322.813M345.163 322.937A173.2 173.2 0 0 1 342.294 326.224M341.623 326.969A173.2 173.2 0 0 1 341.095 327.550M339.422 329.355A173.2 173.2 0 0 1 338.583 330.240M337.287 331.584A173.2 173.2 0 0 1 336.522 332.365M336.294 332.595A173.2 173.2 0 0 1 334.908 333.979M334.332 334.544A173.2 173.2 0 0 1 332.465 336.343M330.456 338.218A173.2 173.2 0 0 1 329.353 339.224M327.120 341.207A173.2 173.2 0 0 1 326.868 341.425M325.987 342.186A173.2 173.2 0 0 1 324.944 343.073M323.801 344.029A173.2 173.2 0 0 1 322.427 345.157M322.217 345.327A173.2 173.2 0 0 1 321.638 345.793M320.041 347.060A173.2 173.2 0 0 1 318.550 348.214M315.007 350.856A173.2 173.2 0 0 1 314.697 351.081M314.466 351.247A173.2 173.2 0 0 1 314.063 351.536M313.571 351.888A173.2 173.2 0 0 1 313.057 352.252M312.253 352.815A173.2 173.2 0 0 1 311.900 353.060M310.717 353.873A173.2 173.2 0 0 1 309.559 354.654M308.984 355.037A173.2 173.2 0 0 1 308.375 355.440M307.147 356.239A173.2 173.2 0 0 1 306.429 356.700M303.054 358.800A173.2 173.2 0 0 1 302.257 359.280M296.324 362.677A173.2 173.2 0 0 1 295.642 363.048M295.466 363.143A173.2 173.2 0 0 1 294.518 363.650M282.092 369.631A173.2 173.2 0 0 1 281.753 369.777M279.490 370.733A173.2 173.2 0 0 1 278.864 370.990M277.756 371.439A173.2 173.2 0 0 1 276.999 371.741M274.404 372.745A173.2 173.2 0 0 1 272.421 373.479M271.172 373.928A173.2 173.2 0 0 1 269.479 374.518M269.085 374.653A173.2 173.2 0 0 1 268.509 374.848M266.092 375.642A173.2 173.2 0 0 1 264.587 376.117M264.366 376.185A173.2 173.2 0 0 1 260.953 377.201M258.935 377.766A173.2 173.2 0 0 1 256.505 378.412M255.749 378.605A173.2 173.2 0 0 1 255.210 378.741M250.790 379.783A173.2 173.2 0 0 1 249.712 380.019M249.090 380.151A173.2 173.2 0 0 1 248.449 380.286M247.572 380.465A173.2 173.2 0 0 1 247.216 380.537M246.540 380.671A173.2 173.2 0 0 1 245.494 380.872M244.314 381.092A173.2 173.2 0 0 1 243.255 381.281M242.772 381.365A173.2 173.2 0 0 1 241.994 381.498M239.479 381.902A173.2 173.2 0 0 1 237.212 382.234M236.598 382.319A173.2 173.2 0 0 1 235.287 382.492M233.390 382.725A173.2 173.2 0 0 1 232.656 382.809M230.896 382.999A173.2 173.2 0 0 1 229.570 383.129M227.012 383.352A173.2 173.2 0 0 1 225.865 383.440M224.698 383.521A173.2 173.2 0 0 1 223.988 383.567M219.425 383.790A173.2 173.2 0 0 1 219.105 383.801M216.178 383.875A173.2 173.2 0 0 1 214.150 383.898M213.845 383.899A173.2 173.2 0 0 1 212.553 383.899M211.809 383.894A173.2 173.2 0 0 1 208.388 383.832M208.027 383.821A173.2 173.2 0 0 1 206.269 383.759M204.131 383.660A173.2 173.2 0 0 1 200.264 383.413M199.473 383.351A173.2 173.2 0 0 1 198.927 383.307M198.357 383.258A173.2 173.2 0 0 1 197.942 383.222M196.958 383.132A173.2 173.2 0 0 1 196.136 383.052M195.150 382.952A173.2 173.2 0 0 1 194.451 382.877M194.064 382.834A173.2 173.2 0 0 1 193.449 382.764M193.123 382.727A173.2 173.2 0 0 1 189.977 382.329M187.105 381.915A173.2 173.2 0 0 1 186.416 381.809M186.085 381.756A173.2 173.2 0 0 1 185.151 381.605M181.485 380.962A173.2 173.2 0 0 1 180.235 380.724M178.716 380.422A173.2 173.2 0 0 1 177.495 380.169M177.280 380.124A173.2 173.2 0 0 1 176.846 380.031M173.787 379.344A173.2 173.2 0 0 1 171.970 378.909M170.935 378.652A173.2 173.2 0 0 1 170.230 378.472M170.011 378.416A173.2 173.2 0 0 1 169.576 378.303M168.647 378.058A173.2 173.2 0 0 1 168.191 377.936M167.510 377.751A173.2 173.2 0 0 1 166.250 377.401M165.094 377.071A173.2 173.2 0 0 1 163.831 376.700M163.527 376.609A173.2 173.2 0 0 1 162.308 376.239M160.868 375.789A173.2 173.2 0 0 1 160.024 375.519M156.255 374.254A173.2 173.2 0 0 1 155.553 374.007M124.532 359.453A173.2 173.2 0 0 1 124.040 359.158M116.032 354.042A173.2 173.2 0 0 1 115.643 353.777M113.552 352.328A173.2 173.2 0 0 1 113.116 352.020M112.801 351.796A173.2 173.2 0 0 1 112.373 351.491M112.217 351.379A173.2 173.2 0 0 1 110.818 350.363M110.266 349.957A173.2 173.2 0 0 1 109.487 349.378M108.910 348.944A173.2 173.2 0 0 1 107.564 347.918M106.106 346.783A173.2 173.2 0 0 1 105.234 346.091M103.791 344.927A173.2 173.2 0 0 1 101.478 343.007M100.296 342.000A173.2 173.2 0 0 1 99.402 341.225M99.116 340.975A173.2 173.2 0 0 1 98.205 340.171M96.605 338.732A173.2 173.2 0 0 1 94.955 337.209M93.840 336.157A173.2 173.2 0 0 1 93.366 335.704M92.335 334.707A173.2 173.2 0 0 1 91.719 334.104M91.197 333.587A173.2 173.2 0 0 1 89.686 332.068M86.329 328.552A173.2 173.2 0 0 1 86.024 328.224M85.873 328.060A173.2 173.2 0 0 1 85.558 327.717M85.248 327.378A173.2 173.2 0 0 1 84.627 326.693M82.309 324.070A173.2 173.2 0 0 1 80.789 322.290M77.773 318.609A173.2 173.2 0 0 1 76.956 317.574M76.553 317.058A173.2 173.2 0 0 1 76.132 316.515M75.876 316.183A173.2 173.2 0 0 1 75.508 315.702M75.292 315.417A173.2 173.2 0 0 1 74.631 314.541M72.284 311.332A173.2 173.2 0 0 1 71.942 310.852M71.001 309.511A173.2 173.2 0 0 1 70.225 308.384M70.098 308.198A173.2 173.2 0 0 1 68.810 306.279M67.700 304.579A173.2 173.2 0 0 1 67.412 304.132M66.710 303.027A173.2 173.2 0 0 1 66.490 302.676M64.120 298.782A173.2 173.2 0 0 1 63.858 298.337M63.743 298.141A173.2 173.2 0 0 1 63.284 297.351M63.130 297.084A173.2 173.2 0 0 1 62.507 295.992M62.138 295.337A173.2 173.2 0 0 1 61.910 294.929M61.417 294.036A173.2 173.2 0 0 1 60.803 292.908M60.336 292.036A173.2 173.2 0 0 1 60.137 291.661M59.906 291.222A173.2 173.2 0 0 1 57.142 285.724M57.040 285.511A173.2 173.2 0 0 1 56.286 283.916M56.103 283.521A173.2 173.2 0 0 1 55.060 281.227M54.990 281.070A173.2 173.2 0 0 1 54.226 279.326M54.120 279.081A173.2 173.2 0 0 1 52.311 274.707M52.239 274.525A173.2 173.2 0 0 1 49.717 267.753M49.362 266.726A173.2 173.2 0 0 1 48.828 265.138M48.754 264.915A173.2 173.2 0 0 1 47.529 261.046M47.439 260.748A173.2 173.2 0 0 1 46.767 258.466M46.658 258.085A173.2 173.2 0 0 1 45.511 253.849M45.459 253.648A173.2 173.2 0 0 1 43.660 245.879M43.594 245.558A173.2 173.2 0 0 1 42.828 241.599M42.800 241.440A173.2 173.2 0 0 1 42.342 238.784M42.285 238.433A173.2 173.2 0 0 1 41.838 235.523M41.048 229.262A173.2 173.2 0 0 1 40.313 220.240M40.281 219.636A173.2 173.2 0 0 1 40.064 212.914M40.053 211.652A173.2 173.2 0 0 1 40.054 209.458M40.057 209.188A173.2 173.2 0 0 1 40.328 200.895M40.341 200.670A173.2 173.2 0 0 1 40.426 199.288M40.472 198.616A173.2 173.2 0 0 1 40.695 195.768M40.723 195.451A173.2 173.2 0 0 1 41.111 191.555M41.136 191.336A173.2 173.2 0 0 1 41.706 186.809M41.756 186.453A173.2 173.2 0 0 1 45.434 167.852M45.588 167.254A173.2 173.2 0 0 1 45.688 166.867M45.748 166.641A173.2 173.2 0 0 1 46.540 163.732M46.607 163.496A173.2 173.2 0 0 1 48.612 156.916M48.705 156.633A173.2 173.2 0 0 1 53.625 143.482M53.746 143.197A173.2 173.2 0 0 1 54.085 142.402M54.704 140.977A173.2 173.2 0 0 1 58.789 132.342M59.540 130.879A173.2 173.2 0 0 1 60.360 129.318M62.662 125.134A173.2 173.2 0 0 1 69.447 114.165M69.625 113.901A173.2 173.2 0 0 1 70.104 113.194M70.323 112.873A173.2 173.2 0 0 1 70.513 112.595M70.848 112.111A173.2 173.2 0 0 1 73.014 109.053M73.114 108.916A173.2 173.2 0 0 1 73.917 107.819M74.168 107.480A173.2 173.2 0 0 1 74.770 106.673M75.067 106.280A173.2 173.2 0 0 1 78.125 102.352M78.790 101.526A173.2 173.2 0 0 1 79.014 101.251M79.522 100.632A173.2 173.2 0 0 1 79.941 100.124M80.295 99.699A173.2 173.2 0 0 1 81.032 98.822M81.549 98.214A173.2 173.2 0 0 1 83.538 95.926M83.670 95.778A173.2 173.2 0 0 1 85.019 94.274M85.385 93.872A173.2 173.2 0 0 1 87.986 91.087M88.207 90.856A173.2 173.2 0 0 1 90.094 88.918M90.283 88.727A173.2 173.2 0 0 1 90.593 88.416M90.768 88.240A173.2 173.2 0 0 1 92.067 86.954M92.256 86.769A173.2 173.2 0 0 1 92.999 86.049M93.384 85.678A173.2 173.2 0 0 1 94.917 84.226M95.459 83.722A173.2 173.2 0 0 1 95.808 83.399M95.979 83.241A173.2 173.2 0 0 1 97.413 81.937M97.830 81.562A173.2 173.2 0 0 1 98.125 81.300M98.363 81.088A173.2 173.2 0 0 1 98.605 80.874M98.727 80.767A173.2 173.2 0 0 1 101.410 78.450M101.545 78.336A173.2 173.2 0 0 1 102.537 77.505M103.366 76.821A173.2 173.2 0 0 1 104.810 75.648M105.240 75.304A173.2 173.2 0 0 1 107.560 73.485M107.965 73.174A173.2 173.2 0 0 1 108.951 72.425M109.817 71.776A173.2 173.2 0 0 1 111.148 70.795M111.757 70.352A173.2 173.2 0 0 1 113.022 69.446M113.447 69.146A173.2 173.2 0 0 1 115.293 67.862M115.683 67.596A173.2 173.2 0 0 1 127.429 60.257M129.401 59.149A173.2 173.2 0 0 1 130.921 58.319M131.312 58.108A173.2 173.2 0 0 1 131.791 57.852M132.048 57.715A173.2 173.2 0 0 1 132.835 57.300M133.011 57.208A173.2 173.2 0 0 1 134.562 56.407M134.767 56.302A173.2 173.2 0 0 1 136.739 55.316M137.060 55.158A173.2 173.2 0 0 1 144.213 51.854M144.451 51.750A173.2 173.2 0 0 1 148.794 49.940M150.289 49.349A173.2 173.2 0 0 1 150.813 49.145M152.121 48.646A173.2 173.2 0 0 1 153.813 48.018M154.049 47.932A173.2 173.2 0 0 1 155.759 47.320M156.492 47.064A173.2 173.2 0 0 1 157.681 46.656M157.840 46.602A173.2 173.2 0 0 1 159.054 46.198M160.345 45.778A173.2 173.2 0 0 1 161.742 45.336M162.530 45.093A173.2 173.2 0 0 1 164.836 44.404M165.806 44.125A173.2 173.2 0 0 1 166.348 43.971M167.048 43.776A173.2 173.2 0 0 1 168.254 43.447M169.062 43.231A173.2 173.2 0 0 1 169.915 43.009M170.497 42.860A173.2 173.2 0 0 1 175.024 41.771M175.781 41.602A173.2 173.2 0 0 1 177.322 41.267M178.040 41.117A173.2 173.2 0 0 1 181.134 40.504M181.800 40.379A173.2 173.2 0 0 1 182.476 40.256M182.891 40.182A173.2 173.2 0 0 1 183.623 40.053M184.340 39.930A173.2 173.2 0 0 1 186.703 39.547M187.918 39.363A173.2 173.2 0 0 1 189.892 39.082M191.202 38.909A173.2 173.2 0 0 1 193.996 38.573M194.237 38.547A173.2 173.2 0 0 1 195.585 38.403M195.901 38.371A173.2 173.2 0 0 1 196.707 38.292" stroke="#109bef" stroke-width="9.6"/><path d="M231.41 52.54A159.20 159.20 0 0 1 233.21 52.76" stroke="#f56edc" stroke-width="8.90"/><path d="M257.11 57.66A159.20 159.20 0 0 1 259.14 58.26" stroke="#f56edc" stroke-width="8.90"/><path d="M331.00 103.55A159.20 159.20 0 0 1 331.81 104.45" stroke="#f56edc" stroke-width="8.90"/><path d="M341.74 116.70A159.20 159.20 0 0 1 343.85 119.66" stroke="#f56edc" stroke-width="8.90"/><path d="M347.42 125.01A159.20 159.20 0 0 1 348.23 126.29" stroke="#f56edc" stroke-width="8.90"/><path d="M359.99 148.96A159.20 159.20 0 0 1 360.57 150.36" stroke="#f56edc" stroke-width="8.90"/><path d="M86.60 307.16A159.20 159.20 0 0 1 85.50 305.70" stroke="#f56edc" stroke-width="8.90"/><path d="M102.97 95.89A159.20 159.20 0 0 1 104.95 94.01" stroke="#f56edc" stroke-width="8.90"/><path d="M178.74 55.29A159.20 159.20 0 0 1 180.22 54.96" stroke="#f56edc" stroke-width="8.90"/><path d="M322.72 95.11A159.20 159.20 0 0 1 323.60 95.95" stroke="#ff8433" stroke-width="8.90" stroke-opacity="0.4"/><path d="M339.00 113.07A159.20 159.20 0 0 1 339.74 114.03" stroke="#ff8433" stroke-width="8.90" stroke-opacity="0.4"/><path d="M344.88 121.16A159.20 159.20 0 0 1 345.56 122.17" stroke="#ff8433" stroke-width="8.90" stroke-opacity="0.4"/><path d="M326.64 322.45A159.20 159.20 0 0 1 325.78 323.31" stroke="#ff8433" stroke-width="8.90" stroke-opacity="0.4"/><path d="M306.65 339.62A159.20 159.20 0 0 1 305.66 340.33" stroke="#ff8433" stroke-width="8.90" stroke-opacity="0.4"/><path d="M271.92 358.70A159.20 159.20 0 0 1 270.79 359.14" stroke="#ff8433" stroke-width="8.90" stroke-opacity="0.4"/><path d="M223.59 369.56A159.20 159.20 0 0 1 222.38 369.64" stroke="#ff8433" stroke-width="8.90" stroke-opacity="0.4"/><path d="M67.14 147.49A159.20 159.20 0 0 1 67.62 146.37" stroke="#ff8433" stroke-width="8.90" stroke-opacity="0.4"/><path d="M109.13 90.27A159.20 159.20 0 0 1 110.05 89.48" stroke="#ff8433" stroke-width="8.90" stroke-opacity="0.4"/><path d="M117.63 83.42A159.20 159.20 0 0 1 118.60 82.69" stroke="#ff8433" stroke-width="8.90" stroke-opacity="0.4"/><path d="M213.53 64.90A145.80 145.80 0 0 1 217.42 64.96" stroke="#3bb769" stroke-width="9.30"/><path d="M224.63 65.34A145.80 145.80 0 0 1 227.39 65.59" stroke="#3bb769" stroke-width="9.30"/><path d="M228.50 65.70A145.80 145.80 0 0 1 231.26 66.02" stroke="#3bb769" stroke-width="9.30"/><path d="M244.94 68.38A145.80 145.80 0 0 1 248.18 69.15" stroke="#3bb769" stroke-width="9.30"/><path d="M252.21 70.20A145.80 145.80 0 0 1 255.68 71.21" stroke="#3bb769" stroke-width="9.30"/><path d="M277.86 80.00A145.80 145.80 0 0 1 280.09 81.13" stroke="#3bb769" stroke-width="9.30"/><path d="M285.46 84.04A145.80 145.80 0 0 1 290.00 86.74" stroke="#3bb769" stroke-width="9.30"/><path d="M298.31 92.29A145.80 145.80 0 0 1 300.33 93.76" stroke="#3bb769" stroke-width="9.30"/><path d="M304.51 96.99A145.80 145.80 0 0 1 311.88 103.32" stroke="#3bb769" stroke-width="9.30"/><path d="M321.09 112.57A145.80 145.80 0 0 1 322.20 113.81" stroke="#3bb769" stroke-width="9.30"/><path d="M331.25 125.06A145.80 145.80 0 0 1 332.86 127.32" stroke="#3bb769" stroke-width="9.30"/><path d="M334.89 130.31A145.80 145.80 0 0 1 337.13 133.82" stroke="#3bb769" stroke-width="9.30"/><path d="M346.93 152.50A145.80 145.80 0 0 1 349.65 159.19" stroke="#3bb769" stroke-width="9.30"/><path d="M350.60 161.80A145.80 145.80 0 0 1 351.42 164.16" stroke="#3bb769" stroke-width="9.30"/><path d="M352.03 166.00A145.80 145.80 0 0 1 354.07 172.93" stroke="#3bb769" stroke-width="9.30"/><path d="M354.90 176.16A145.80 145.80 0 0 1 356.00 181.04" stroke="#3bb769" stroke-width="9.30"/><path d="M359.01 207.21A145.80 145.80 0 0 1 359.05 210.27" stroke="#3bb769" stroke-width="9.30"/><path d="M358.93 216.66A145.80 145.80 0 0 1 358.77 219.71" stroke="#3bb769" stroke-width="9.30"/><path d="M356.49 237.88A145.80 145.80 0 0 1 355.66 241.97" stroke="#3bb769" stroke-width="9.30"/><path d="M355.29 243.59A145.80 145.80 0 0 1 354.29 247.64" stroke="#3bb769" stroke-width="9.30"/><path d="M353.41 250.85A145.80 145.80 0 0 1 352.04 255.37" stroke="#3bb769" stroke-width="9.30"/><path d="M351.69 256.42A145.80 145.80 0 0 1 350.43 260.10" stroke="#3bb769" stroke-width="9.30"/><path d="M349.85 261.66A145.80 145.80 0 0 1 348.96 264.00" stroke="#3bb769" stroke-width="9.30"/><path d="M348.44 265.29A145.80 145.80 0 0 1 346.94 268.87" stroke="#3bb769" stroke-width="9.30"/><path d="M335.51 290.13A145.80 145.80 0 0 1 333.03 293.82" stroke="#3bb769" stroke-width="9.30"/><path d="M331.91 295.41A145.80 145.80 0 0 1 329.28 298.99" stroke="#3bb769" stroke-width="9.30"/><path d="M305.39 323.69A145.80 145.80 0 0 1 301.02 327.12" stroke="#3bb769" stroke-width="9.30"/><path d="M238.70 354.26A145.80 145.80 0 0 1 236.51 354.63" stroke="#3bb769" stroke-width="9.30"/><path d="M232.66 355.20A145.80 145.80 0 0 1 229.91 355.55" stroke="#3bb769" stroke-width="9.30"/><path d="M227.42 355.81A145.80 145.80 0 0 1 223.55 356.14" stroke="#3bb769" stroke-width="9.30"/><path d="M180.78 352.84A145.80 145.80 0 0 1 177.00 351.92" stroke="#3bb769" stroke-width="9.30"/><path d="M107.51 311.09A145.80 145.80 0 0 1 106.37 309.87" stroke="#3bb769" stroke-width="9.30"/><path d="M97.26 299.04A145.80 145.80 0 0 1 96.26 297.71" stroke="#3bb769" stroke-width="9.30"/><path d="M78.82 267.14A145.80 145.80 0 0 1 77.56 264.05" stroke="#3bb769" stroke-width="9.30"/><path d="M76.77 261.98A145.80 145.80 0 0 1 75.63 258.85" stroke="#3bb769" stroke-width="9.30"/><path d="M83.15 144.89A145.80 145.80 0 0 1 83.65 143.90" stroke="#3bb769" stroke-width="9.30"/><path d="M112.35 105.45A145.80 145.80 0 0 1 119.16 99.32" stroke="#3bb769" stroke-width="9.30"/><path d="M121.52 97.38A145.80 145.80 0 0 1 123.91 95.48" stroke="#3bb769" stroke-width="9.30"/><path d="M141.47 83.79A145.80 145.80 0 0 1 142.56 83.18" stroke="#3bb769" stroke-width="9.30"/><path d="M170.50 71.31A145.80 145.80 0 0 1 180.69 68.58" stroke="#3bb769" stroke-width="9.30"/><path d="M181.78 68.34A145.80 145.80 0 0 1 184.22 67.82" stroke="#3bb769" stroke-width="9.30"/><path d="M192.16 66.43A145.80 145.80 0 0 1 194.36 66.13" stroke="#3bb769" stroke-width="9.30"/><path d="M196.29 65.89A145.80 145.80 0 0 1 199.32 65.57" stroke="#3bb769" stroke-width="9.30"/><path d="M213.25 78.34L213.91 76.83L214.58 76.80L215.18 81.02L215.79 82.36L216.35 85.50L217.08 81.65L217.76 80.59L218.39 80.92L219.07 80.13L219.76 79.35L220.36 80.21L220.93 81.53L221.82 77.77L222.32 80.05L223.04 79.12L223.74 78.52L224.16 81.31L225.01 79.07L225.18 84.25L225.70 85.32L226.40 84.61L227.41 81.22L228.51 77.23L229.01 78.63L229.06 83.60L230.04 80.95L231.19 77.29L231.81 77.65L232.03 80.79L233.00 78.71L233.50 79.79L234.87 75.36L235.22 77.38L235.24 81.25L236.07 80.32L236.97 78.99L237.81 78.11L237.90 81.18L238.49 81.56L238.59 84.39L239.85 81.44L240.31 82.41L241.39 80.48L241.52 82.97L242.36 82.18L243.28 81.12L243.06 84.91L245.46 77.70L244.38 84.90L244.86 85.62L246.09 83.38L245.66 87.57L247.65 82.61L248.65 81.43L248.78 83.43L247.86 89.05L249.68 85.02L249.78 86.99L251.15 84.65L252.11 83.72L251.18 88.94L251.01 91.54L253.88 84.66L253.59 87.64L254.18 87.91L255.88 84.89L256.21 85.95L257.85 83.25L257.44 86.40L259.27 83.25L259.70 84.03L259.58 86.26L259.76 87.63L260.74 86.90L262.25 84.84L259.17 94.44L262.66 87.41L263.11 88.05L264.23 87.05L264.25 88.72L264.78 89.14L266.52 86.75L267.27 86.71L265.97 91.29L264.52 96.12L267.26 91.58L268.27 90.93L270.71 87.25L270.56 89.14L269.89 92.08L268.70 96.05L271.74 91.26L269.25 97.78L270.74 96.19L273.66 91.85L273.65 93.31L276.44 89.37L273.11 97.15L273.71 97.36L275.82 94.79L276.47 94.97L277.92 93.69L279.02 93.07L278.72 94.96L280.17 93.76L278.75 97.54L280.18 96.37L279.30 99.14L283.08 94.08L280.76 99.22L281.38 99.44L281.79 100.00L284.91 96.23L283.14 100.28L283.77 100.51L285.50 99.02L283.52 103.25L287.86 97.83L289.39 96.76L288.05 99.95L289.56 98.91L289.41 100.30L290.63 99.71L290.16 101.54L290.73 101.89L289.71 104.44L291.49 103.09L292.41 102.95L291.51 105.28L293.33 103.92L289.65 109.88L295.89 102.76L296.78 102.70L297.60 102.76L293.19 109.44L297.79 104.69L296.69 107.13L298.40 106.06L296.25 109.74L298.77 107.72L299.58 107.78L298.52 110.06L301.16 107.98L300.87 109.33L301.63 109.48L303.67 108.16L297.51 116.10L302.70 111.27L300.79 114.36L303.25 112.63L305.98 110.66L302.97 114.85L303.55 115.19L306.31 113.24L305.99 114.53L307.20 114.24L304.03 118.41L307.79 115.54L309.02 115.24L308.64 116.57L312.38 113.83L309.30 117.77L307.07 120.82L312.20 116.84L309.60 120.21L311.69 119.16L310.72 120.96L315.68 117.33L310.53 122.90L310.08 124.17L314.52 121.10L315.21 121.38L316.34 121.29L316.92 121.69L314.19 124.89L315.60 124.56L314.83 126.07L314.55 127.14L312.61 129.57L318.04 126.00L318.98 126.10L318.39 127.42L320.51 126.60L316.08 130.90L318.13 130.13L317.83 131.19L318.67 131.37L320.75 130.63L320.71 131.48L319.00 133.55L317.11 135.71L316.55 136.90L319.92 135.28L325.56 132.12L321.72 135.60L324.18 134.71L322.01 136.99L324.76 135.93L323.80 137.36L321.68 139.54L318.09 142.63L318.43 143.15L318.76 143.67L324.72 140.66L325.74 140.79L325.27 141.85L320.07 145.78L329.49 140.84L328.26 142.35L331.21 141.38L327.63 144.24L326.75 145.50L325.66 146.87L330.62 144.82L329.63 146.13L332.44 145.34L330.14 147.35L327.26 149.64L330.40 148.71L333.26 147.95L333.78 148.44L335.70 148.21L333.88 149.89L335.74 149.71L333.95 151.34L335.29 151.43L337.01 151.35L329.40 155.71L331.13 155.60L337.32 153.45L332.09 156.58L336.21 155.44L331.95 158.05L334.33 157.72L334.67 158.28L335.19 158.77L330.60 161.41L336.97 159.45L333.81 161.46L334.70 161.80L331.55 163.75L333.78 163.55L333.37 164.40L334.72 164.56L332.44 166.10L338.20 164.65L334.54 166.68L330.96 168.64L331.48 169.11L337.82 167.57L339.19 167.80L335.50 169.73L334.92 170.59L338.57 170.07L335.67 171.68L333.24 173.11L340.88 171.41L337.49 173.13L338.85 173.39L340.91 173.47L340.35 174.31L340.51 174.95L334.21 177.36L340.74 176.24L337.53 177.77L339.18 177.99L337.74 179.03L341.71 178.69L344.91 178.59L342.87 179.76L337.32 181.74L344.11 180.83L339.14 182.62L345.89 181.81L347.32 182.19L346.58 183.03L335.77 185.91L347.09 184.31L339.46 186.46L338.07 187.37L342.79 187.15L345.60 187.31L342.66 188.49L345.28 188.72L342.71 189.80L346.96 189.79L348.46 190.25L345.92 191.30L343.86 192.26L343.97 192.91L344.06 193.55L345.33 194.05L343.49 194.94L340.91 195.89L346.23 195.94L347.30 196.49L344.00 197.50L345.45 198.01L345.30 198.69L347.70 199.14L346.57 199.90L345.78 200.62L348.82 201.07L346.55 201.89L345.86 202.60L346.09 203.24L345.43 203.93L347.57 204.49L339.85 205.48L346.25 205.87L339.18 206.75L348.52 207.13L338.22 208.02L346.36 208.50L343.46 209.20L349.66 209.80L347.31 210.48L341.12 211.12L342.74 211.77L342.59 212.41L347.00 213.13L343.12 213.70L348.01 214.48L345.09 215.05L342.30 215.60L343.58 216.30L347.88 217.15L340.41 217.42L344.30 218.28L346.73 219.08L345.76 219.68L349.79 220.63L345.36 220.97L346.56 221.72L341.58 221.95L343.36 222.76L342.63 223.34L346.93 224.42L342.85 224.66L347.38 225.81L337.39 225.31L347.74 227.20L344.16 227.42L344.15 228.08L346.90 229.12L344.15 229.40L343.50 229.97L346.99 231.16L342.32 231.10L346.89 232.50L348.12 233.39L344.50 233.45L343.57 233.95L342.97 234.51L345.77 235.70L344.65 236.16L339.87 235.89L345.73 237.74L342.72 237.79L335.47 236.91L342.48 239.08L342.67 239.79L339.36 239.70L344.48 241.57L343.59 242.04L338.80 241.55L342.83 243.22L345.69 244.63L341.14 244.14L342.16 245.09L346.99 247.09L341.88 246.38L339.89 246.51L344.30 248.46L340.82 248.14L343.30 249.57L339.85 249.22L336.47 248.86L342.14 251.32L336.40 250.18L336.13 250.76L342.22 253.45L335.70 251.97L336.34 252.86L337.02 253.78L333.98 253.40L333.71 253.97L332.48 254.20L338.41 257.07L331.86 255.30L337.78 258.24L338.15 259.09L336.64 259.21L333.38 258.61L336.79 260.69L339.40 262.47L334.40 261.12L332.67 261.09L332.39 261.67L331.93 262.17L335.04 264.24L336.41 265.57L335.35 265.82L332.45 265.22L336.08 267.62L332.77 266.81L338.42 270.22L329.83 266.84L332.20 268.71L331.77 269.23L332.63 270.39L332.32 270.98L331.35 271.22L331.01 271.78L330.47 272.24L329.13 272.27L331.63 274.36L328.07 273.18L328.50 274.15L331.26 276.43L331.30 277.22L326.27 275.13L327.44 276.55L328.46 277.89L329.26 279.13L330.30 280.53L330.49 281.43L326.88 280.03L321.56 277.52L326.74 281.49L325.35 281.40L328.23 284.01L327.32 284.23L323.38 282.46L322.09 282.39L317.30 279.98L317.78 281.04L318.18 282.07L323.02 286.16L319.78 284.72L316.50 283.20L322.56 288.26L320.28 287.44L318.16 286.71L318.96 288.10L323.24 292.07L313.37 285.54L317.79 289.65L313.27 287.01L314.86 289.03L318.11 292.36L317.42 292.66L319.57 295.21L316.43 293.54L319.33 296.74L317.32 295.97L315.85 295.62L316.11 296.70L314.07 295.84L315.89 298.25L311.66 295.48L314.83 299.10L313.32 298.66L309.96 296.55L310.04 297.49L313.54 301.52L311.49 300.56L308.44 298.63L310.51 301.45L312.28 304.02L308.66 301.50L310.05 303.75L310.49 305.10L308.38 303.97L311.74 308.22L309.09 306.54L307.69 306.09L308.70 308.07L306.13 306.38L304.91 306.07L306.08 308.25L306.39 309.54L304.59 308.60L305.47 310.53L303.53 309.41L304.98 312.00L305.35 313.42L302.56 311.31L301.41 311.01L301.63 312.27L297.64 308.66L299.80 312.17L302.05 315.86L297.81 311.86L299.53 314.95L297.51 313.55L297.03 314.00L294.91 312.41L296.97 316.04L293.98 313.32L295.64 316.50L293.21 314.43L295.57 318.59L288.58 310.45L292.48 316.71L291.11 315.96L293.57 320.42L289.82 316.39L292.18 320.79L289.98 318.85L291.63 322.34L289.37 320.26L289.75 321.98L288.07 320.70L288.57 322.62L286.55 320.79L286.34 321.67L286.62 323.31L287.42 325.77L286.16 325.06L283.93 322.78L284.95 325.66L282.15 322.39L282.46 324.14L282.24 325.06L283.10 327.79L281.27 326.02L282.70 329.79L280.76 327.78L280.97 329.51L277.90 325.43L279.50 329.64L279.77 331.54L276.50 326.95L278.21 331.52L276.32 329.41L274.03 326.47L274.94 329.64L274.44 330.11L272.79 328.33L272.49 329.18L271.84 329.35L271.85 330.86L272.94 334.64L271.60 333.43L270.94 333.59L269.50 332.10L269.16 332.94L267.91 331.80L267.48 332.44L267.17 333.37L266.47 333.42L265.91 333.79L266.00 335.71L264.10 332.90L262.67 331.14L262.91 333.45L263.78 337.40L262.06 334.88L261.10 334.23L261.17 336.25L259.65 334.09L260.16 337.36L258.97 336.05L258.62 337.00L258.14 337.64L257.95 339.13L258.10 341.64L255.54 336.19L255.45 338.01L255.20 339.38L254.07 338.04L252.14 334.13L253.18 339.66L253.10 341.70L251.26 337.90L252.22 343.50L250.79 341.00L249.64 339.43L247.98 335.91L248.99 342.07L247.70 339.84L248.20 344.37L247.34 343.79L246.08 341.54L245.94 343.78L245.23 343.73L244.09 341.82L243.07 340.38L242.79 342.14L242.19 342.51L241.16 340.88L240.86 342.66L240.03 341.93L239.09 340.64L238.90 343.07L238.52 344.69L237.05 340.42L236.14 339.04L236.10 342.58L235.30 341.79L234.55 341.30L233.09 336.24L233.20 341.16L232.16 338.53L232.15 343.02L231.12 340.40L230.79 342.79L229.17 335.37L228.92 338.43L228.47 340.02L228.06 342.19L226.98 338.21L226.24 337.24L225.87 340.00L225.33 341.09L224.67 341.04L224.07 341.56L223.45 342.02L222.69 340.59L222.30 344.29L221.60 343.77L220.91 343.28L220.18 341.80L219.74 346.39L219.01 344.95L218.30 343.82L217.62 343.08L216.93 342.01L216.34 344.54L215.67 344.22L215.01 344.47L214.36 345.92L213.68 340.97L213.04 338.37L212.35 346.27L211.70 344.65L211.03 345.16L210.36 345.19L209.72 344.27L208.98 346.89L208.53 340.57L207.84 341.68L207.04 344.86L206.48 342.80L205.77 343.82L205.08 344.34L204.31 345.88L203.96 341.43L203.23 342.47L202.48 343.60L201.64 345.60L201.00 345.28L200.36 344.97L199.93 342.60L199.29 342.35L198.50 343.56L197.97 342.37L197.43 341.40L196.38 344.52L196.58 337.84L195.27 342.77L194.25 345.30L193.76 343.99L193.23 343.01L192.27 344.88L192.09 341.77L191.46 341.56L190.50 343.23L189.97 342.43L188.55 346.54L188.57 342.70L187.85 342.95L187.25 342.51L186.75 341.63L185.68 343.56L185.34 341.94L184.63 342.06L184.90 337.78L184.29 337.58L182.87 340.80L182.04 341.46L181.94 339.03L181.02 340.04L180.26 340.37L180.26 337.70L180.35 334.82L177.73 342.08L178.06 338.36L177.22 338.94L177.82 334.44L175.50 340.11L175.21 338.75L174.01 340.43L172.47 343.16L171.81 342.96L172.09 339.84L173.26 334.05L172.08 335.59L169.96 339.84L170.07 337.42L169.66 336.61L169.69 334.52L167.79 337.91L168.55 333.86L167.60 334.55L165.47 338.38L166.31 334.27L165.44 334.72L164.57 335.13L164.29 334.03L163.54 334.15L162.19 335.70L160.73 337.48L162.31 331.98L160.92 333.57L159.18 335.93L159.88 332.66L161.64 327.05L159.16 331.05L157.85 332.33L156.66 333.33L157.22 330.57L154.26 335.28L158.43 325.02L157.06 326.40L153.03 333.14L152.49 332.71L153.67 328.87L152.41 329.90L153.92 325.54L152.16 327.53L151.17 328.00L149.28 330.14L149.56 328.21L147.98 329.72L148.11 328.09L147.60 327.65L145.95 329.20L146.24 327.36L146.41 325.73L144.91 326.99L145.58 324.56L144.82 324.55L143.13 326.05L143.50 324.18L143.97 322.17L142.12 323.89L142.14 322.63L141.43 322.53L141.13 321.78L137.99 325.37L139.76 321.46L138.32 322.43L139.24 319.89L137.84 320.78L136.80 321.13L135.96 321.16L137.82 317.38L139.73 313.59L135.80 317.96L135.49 317.27L132.87 319.73L132.68 318.86L131.81 318.91L132.34 317.10L131.55 317.05L131.31 316.27L133.10 312.92L130.10 315.67L128.02 317.21L128.55 315.48L128.06 315.02L127.68 314.44L126.34 315.01L126.83 313.38L124.76 314.79L124.66 313.86L127.28 309.82L125.22 311.19L124.32 311.21L124.44 310.08L124.04 309.54L122.24 310.52L121.73 310.09L122.18 308.63L119.86 310.13L119.77 309.24L119.04 309.03L119.57 307.52L120.31 305.81L118.80 306.40L118.30 305.96L116.96 306.35L116.58 305.79L117.73 303.72L116.58 303.92L115.52 304.01L117.70 301.03L113.90 303.69L117.57 299.38L116.78 299.22L115.60 299.42L118.64 295.81L115.75 297.54L111.39 300.52L114.23 297.15L112.90 297.44L114.78 294.96L111.58 296.84L112.42 295.27L110.62 295.92L110.05 295.53L110.14 294.61L108.64 294.97L110.46 292.67L112.23 290.44L108.09 292.87L107.44 292.54L110.28 289.53L108.70 289.92L109.71 288.35L107.14 289.46L106.91 288.82L108.34 286.97L108.78 285.86L103.66 288.73L104.36 287.42L109.82 282.81L100.62 288.39L105.31 284.38L105.58 283.41L99.80 286.50L103.63 283.16L100.78 284.25L98.88 284.68L99.05 283.77L100.58 282.01L99.42 281.96L97.53 282.35L99.04 280.63L97.80 280.61L99.21 278.99L98.28 278.77L97.86 278.25L94.67 279.33L95.83 277.89L96.35 276.82L97.35 275.50L95.62 275.71L94.72 275.44L96.45 273.74L95.10 273.72L93.15 274.00L95.55 271.99L93.05 272.54L91.97 272.34L91.34 271.90L92.89 270.38L88.84 271.62L92.10 269.29L91.19 268.98L89.52 269.03L89.91 268.10L92.56 266.14L89.91 266.62L90.19 265.76L91.15 264.61L89.38 264.66L88.49 264.31L88.46 263.60L90.17 262.15L85.19 263.49L90.55 260.57L91.49 259.49L87.49 260.37L87.42 259.68L86.19 259.44L90.96 256.91L87.84 257.38L87.48 256.81L87.55 256.08L84.04 256.63L88.30 254.42L90.96 252.81L86.64 253.60L84.79 253.52L86.92 252.11L84.72 252.13L87.08 250.68L82.00 251.58L83.98 250.26L82.90 249.88L85.38 248.45L84.24 248.09L82.91 247.78L83.84 246.83L80.86 246.95L81.72 246.02L84.80 244.51L83.81 244.09L79.46 244.50L82.49 243.05L80.01 242.96L81.49 241.91L82.37 241.02L80.81 240.70L83.59 239.39L81.21 239.23L82.79 238.22L82.68 237.57L79.85 237.46L81.95 236.36L81.71 235.73L80.24 235.33L78.11 235.04L78.42 234.29L80.15 233.31L79.05 232.81L82.35 231.61L79.57 231.37L80.04 230.62L79.43 230.04L80.72 229.18L80.01 228.61L79.54 228.00L76.74 227.68L81.33 226.44L78.68 226.08L78.45 225.43L78.28 224.78L78.76 224.05L79.08 223.35L78.18 222.76L78.24 222.08L78.31 221.41L75.44 220.95L77.25 220.14L78.35 219.39L75.98 218.86L80.91 217.91L77.94 217.40L75.62 216.83L77.18 216.09L78.72 215.36L78.87 214.69L78.65 214.03L78.99 213.35L79.48 212.68L78.14 212.03L77.92 211.37L75.62 210.70L77.00 210.02L78.15 209.36L77.71 208.68L77.51 208.01L80.95 207.42L80.43 206.75L80.05 206.08L78.67 205.36L78.81 204.70L80.30 204.11L80.68 203.47L77.91 202.65L78.92 202.04L81.17 201.53L77.29 200.58L77.37 199.91L78.02 199.29L76.85 198.51L78.53 197.99L78.61 197.32L81.69 196.97L81.62 196.30L78.46 195.28L79.96 194.79L77.61 193.82L79.91 193.44L77.44 192.44L80.08 192.12L80.26 191.47L77.85 190.44L81.95 190.39L82.12 189.75L79.18 188.60L78.05 187.72L79.57 187.30L80.37 186.76L81.42 186.28L82.28 185.76L80.87 184.82L79.53 183.87L77.84 182.83L84.66 183.57L81.47 182.21L82.45 181.75L82.68 181.12L85.43 181.08L82.43 179.70L82.87 179.12L81.58 178.12L82.55 177.67L80.66 176.49L80.13 175.65L83.12 175.75L83.16 175.07L82.21 174.11L83.10 173.66L82.94 172.92L83.47 172.38L85.18 172.19L86.07 171.77L83.85 170.39L82.93 169.40L86.12 169.71L89.74 170.21L88.31 169.05L87.00 167.92L84.97 166.52L87.91 166.84L86.88 165.77L86.35 164.87L88.44 164.93L84.09 162.61L88.07 163.38L89.34 163.16L92.06 163.51L88.40 161.38L90.85 161.64L87.19 159.45L92.60 160.95L87.24 158.01L89.20 158.11L89.33 157.44L90.24 157.11L92.97 157.59L90.55 155.79L92.59 155.98L91.25 154.65L90.94 153.77L93.46 154.22L95.39 154.41L93.74 152.90L93.13 151.87L93.35 151.24L90.02 148.83L92.16 149.15L94.59 149.64L93.34 148.24L95.57 148.66L96.30 148.31L96.21 147.52L93.14 145.09L97.59 146.77L93.70 143.85L99.44 146.31L95.91 143.55L98.63 144.35L96.84 142.54L96.06 141.31L100.46 143.15L101.98 143.31L101.54 142.29L98.84 139.86L100.96 140.40L101.34 139.86L99.51 137.91L101.15 138.18L100.54 136.99L101.40 136.76L99.72 134.84L103.41 136.51L102.24 134.92L99.55 132.25L104.38 134.79L104.23 133.88L104.52 133.28L106.54 133.91L105.18 132.12L104.60 130.87L104.29 129.82L106.02 130.27L111.98 133.96L107.68 129.87L106.91 128.44L109.17 129.37L110.67 129.72L107.20 126.12L107.14 125.21L109.37 126.16L111.22 126.82L110.09 125.03L111.27 125.15L111.34 124.35L111.95 124.00L113.69 124.63L113.51 123.61L112.34 121.71L114.18 122.46L112.20 119.78L114.50 120.97L117.33 122.67L117.63 122.07L114.64 118.38L116.74 119.45L114.56 116.46L118.32 119.15L115.34 115.33L117.96 116.96L122.49 120.53L119.16 116.29L117.64 113.81L123.24 118.58L120.57 114.90L122.36 115.81L123.33 115.89L121.72 113.23L123.91 114.62L127.88 117.98L125.77 114.73L125.42 113.39L123.14 109.85L124.37 110.24L125.22 110.20L126.51 110.68L126.68 109.87L128.19 110.63L127.55 108.86L126.82 106.96L129.40 109.03L128.42 106.80L131.74 109.86L131.20 108.15L133.98 110.62L133.94 109.53L133.65 108.13L131.47 104.24L135.35 108.23L134.47 106.01L134.95 105.57L133.04 101.88L135.15 103.65L134.98 102.29L138.68 106.32L136.32 101.89L139.60 105.43L137.65 101.49L139.98 103.72L137.34 98.69L138.59 99.35L138.23 97.61L139.20 97.86L139.98 97.84L142.96 101.25L142.33 99.05L144.53 101.32L142.51 96.86L141.03 93.18L145.24 98.80L143.65 94.90L145.17 96.15L145.80 95.92L146.44 95.70L148.09 97.25L151.49 101.92L149.85 97.74L150.44 97.48L152.66 100.20L150.72 95.31L150.63 93.77L152.00 94.96L152.99 95.45L151.87 91.88L152.65 91.96L153.66 92.49L152.66 89.00L153.43 89.04L155.53 91.84L155.78 90.84L156.16 90.12L155.55 87.24L156.17 86.98L157.57 88.41L158.54 88.95L157.58 85.18L158.80 86.26L159.89 87.09L160.78 87.49L161.24 86.86L160.98 84.51L160.93 82.58L162.44 84.49L164.01 86.64L164.73 86.66L165.25 86.17L166.74 88.23L165.94 84.24L166.81 84.69L167.71 85.20L168.58 85.68L168.27 82.82L169.32 83.81L169.72 82.92L169.99 81.62L172.33 86.57L171.78 82.77L171.94 81.07L174.54 87.13L176.38 90.92L176.80 90.15L176.13 85.71L176.04 83.11L178.05 87.72L177.73 84.27L179.64 88.72L177.82 79.60L180.47 86.98L179.64 81.26L181.43 85.61L181.11 81.70L182.04 82.71L182.77 82.96L184.69 88.33L184.08 82.88L186.04 88.70L186.30 86.95L186.72 85.93L185.60 77.44L187.03 81.11L188.66 86.00L188.17 80.11L189.87 85.60L189.90 82.26L191.05 85.01L191.34 83.02L191.35 79.14L193.00 85.25L193.31 83.10L194.21 84.83L194.62 83.25L195.59 85.60L196.35 86.53L196.34 81.65L197.18 83.18L197.98 84.47L198.50 83.52L198.83 80.75L199.91 84.79L200.08 80.23L200.90 82.01" stroke="#fa0f78" stroke-width="1.05" stroke-linejoin="miter"/><path d="M213.47 103.60L213.47 104.83M213.91 103.60L213.88 108.28M214.35 103.61L214.32 107.03M214.80 103.61L214.74 107.82M215.24 103.62L215.18 106.91M215.68 103.63L215.60 107.06M216.12 103.64L216.03 107.04M216.56 103.65L216.45 107.28M217.89 103.70L217.68 108.44M218.33 103.72L218.19 106.67M218.77 103.74L218.68 105.54M219.21 103.77L219.05 106.59M219.65 103.79L219.40 107.92M220.09 103.82L219.93 106.32M220.53 103.85L220.45 105.05M220.97 103.88L220.82 105.95M221.42 103.91L221.26 106.00M221.86 103.95L221.65 106.55M222.30 103.98L222.03 107.12M222.74 104.02L222.47 107.05M223.18 104.06L222.83 107.79M223.62 104.10L223.37 106.60M224.06 104.15L223.79 106.73M224.49 104.19L224.13 107.64M224.93 104.24L224.54 107.84M225.37 104.29L224.91 108.34M225.81 104.34L225.29 108.76M226.25 104.39L225.94 106.93M226.69 104.45L226.54 105.64M227.13 104.50L226.78 107.12M227.57 104.56L227.18 107.42M228.00 104.62L227.70 106.77M228.44 104.68L228.21 106.27M228.88 104.75L228.58 106.79M229.31 104.81L228.73 108.67M229.75 104.88L228.97 109.88M230.19 104.95L229.70 108.01M231.49 105.17L231.01 107.97M231.93 105.24L231.03 110.31M232.36 105.32L231.91 107.84M232.80 105.40L232.42 107.46M233.23 105.48L232.74 108.08M233.67 105.56L233.02 108.91M234.10 105.65L233.78 107.25M234.53 105.74L234.30 106.91M234.97 105.82L234.23 109.40M235.40 105.92L234.40 110.66M235.83 106.01L235.25 108.69M236.26 106.10L235.21 110.88M236.69 106.20L235.52 111.42M237.13 106.30L236.05 110.99M237.56 106.39L236.89 109.26M237.99 106.50L237.50 108.54M238.42 106.60L238.13 107.76M238.84 106.70L237.70 111.35M239.27 106.81L237.94 112.14M239.70 106.92L238.91 110.01M240.13 107.03L238.75 112.35M240.56 107.14L240.12 108.79M240.98 107.25L239.98 111.02M241.41 107.37L240.65 110.17M241.84 107.49L241.25 109.61M242.26 107.60L241.28 111.09M242.69 107.72L242.36 108.88M243.11 107.85L242.63 109.51M243.54 107.97L242.68 110.88M243.96 108.10L243.40 109.97M244.38 108.22L243.15 112.27M244.80 108.35L244.02 110.89M245.23 108.48L244.35 111.28M245.65 108.62L244.59 111.94M246.07 108.75L244.77 112.78M246.49 108.89L244.78 114.12M246.91 109.03L245.50 113.29M247.33 109.17L245.97 113.21M247.75 109.31L247.08 111.26M248.16 109.45L246.53 114.20M248.58 109.60L247.08 113.90M249.00 109.74L248.28 111.76M249.41 109.89L247.91 114.07M249.83 110.04L249.42 111.17M250.24 110.19L249.39 112.51M250.66 110.35L249.56 113.28M251.07 110.50L250.45 112.15M251.49 110.66L250.30 113.76M251.90 110.82L251.03 113.07M252.31 110.98L251.87 112.09M252.72 111.14L250.78 116.04M253.13 111.30L251.47 115.44M253.54 111.47L253.01 112.78M253.95 111.63L252.40 115.41M255.58 112.32L254.36 115.16M255.98 112.50L254.43 116.07M256.39 112.67L255.11 115.58M256.79 112.85L255.54 115.67M257.20 113.03L255.80 116.14M257.60 113.21L256.79 114.98M258.00 113.40L257.01 115.55M258.40 113.58L257.79 114.89M258.80 113.77L257.35 116.87M259.20 113.96L258.48 115.47M259.60 114.15L258.34 116.78M260.00 114.34L259.31 115.75M260.39 114.53L259.43 116.50M260.79 114.73L259.52 117.30M261.19 114.93L259.34 118.62M261.58 115.13L260.35 117.56M261.98 115.33L259.98 119.23M262.37 115.53L260.78 118.60M262.76 115.73L260.61 119.86M263.15 115.94L261.45 119.18M263.54 116.14L262.33 118.41M263.93 116.35L262.14 119.69M264.32 116.56L262.06 120.73M264.71 116.77L262.28 121.21M265.10 116.99L263.60 119.69M265.48 117.20L263.88 120.06M265.87 117.42L264.24 120.29M266.25 117.63L265.55 118.87M266.63 117.85L265.59 119.68M267.02 118.07L266.01 119.81M267.40 118.30L265.63 121.31M267.78 118.52L266.15 121.28M268.16 118.75L266.68 121.22M268.54 118.97L266.93 121.64M268.92 119.20L266.92 122.48M269.29 119.43L267.49 122.37M269.67 119.67L267.01 123.96M270.04 119.90L268.48 122.40M270.42 120.13L268.29 123.51M270.79 120.37L270.12 121.43M271.16 120.61L270.51 121.62M271.53 120.85L270.88 121.85M271.90 121.09L271.25 122.09M272.27 121.33L271.33 122.77M272.64 121.58L270.76 124.40M273.01 121.82L271.14 124.60M273.37 122.07L272.70 123.06M273.74 122.32L272.87 123.59M274.10 122.57L272.31 125.17M274.47 122.82L272.52 125.62M274.83 123.07L273.79 124.56M275.19 123.33L274.00 125.00M275.55 123.58L273.73 126.13M276.62 124.36L274.76 126.90M276.98 124.62L275.34 126.83M277.33 124.89L275.94 126.75M277.69 125.15L275.00 128.72M278.04 125.42L274.71 129.80M278.39 125.69L275.26 129.78M280.13 127.05L278.52 129.06M280.47 127.33L278.95 129.21M280.82 127.60L278.79 130.10M281.16 127.88L279.42 130.01M281.50 128.16L278.41 131.90M281.84 128.45L279.03 131.82M282.18 128.73L281.18 129.92M282.52 129.01L281.45 130.27M282.85 129.30L281.95 130.35M283.19 129.59L280.51 132.70M283.52 129.88L282.24 131.36M283.86 130.17L280.74 133.72M284.19 130.46L280.73 134.37M284.52 130.75L281.12 134.56M284.85 131.05L282.91 133.20M285.17 131.34L283.10 133.64M285.50 131.64L284.13 133.15M285.83 131.94L284.33 133.57M286.15 132.24L283.46 135.13M286.47 132.54L282.86 136.40M287.44 133.45L284.03 137.00M287.75 133.76L285.30 136.29M288.07 134.07L285.42 136.78M288.39 134.38L286.53 136.27M288.70 134.69L285.49 137.92M289.01 135.00L286.68 137.33M289.32 135.31L287.63 136.99M289.63 135.63L287.01 138.21M289.94 135.94L288.66 137.19M290.25 136.26L287.73 138.69M293.55 139.83L291.99 141.21M293.84 140.16L291.69 142.04M294.13 140.50L292.31 142.07M294.42 140.83L292.21 142.73M294.71 141.16L292.60 142.96M307.22 159.32L305.40 160.32M307.43 159.71L306.04 160.46M315.23 177.97L313.48 178.53M315.36 178.39L312.83 179.19M315.49 178.81L313.88 179.31M319.60 223.35L318.55 223.23M319.55 223.79L318.86 223.71M319.49 224.23L318.40 224.09M319.44 224.67L318.36 224.52M319.12 226.85L316.64 226.47M319.06 227.29L317.34 227.02M318.99 227.73L317.34 227.46M318.92 228.16L316.98 227.84M318.84 228.60L317.42 228.36M318.61 229.90L317.89 229.77M318.53 230.34L317.21 230.09M318.45 230.77L317.61 230.61M317.54 235.09L316.30 234.80M317.43 235.52L316.52 235.31M317.33 235.95L316.02 235.63M317.23 236.38L315.85 236.04M317.12 236.81L315.45 236.39M309.38 257.93L308.02 257.26M309.18 258.32L307.92 257.69M286.99 288.37L286.01 287.35M286.67 288.68L285.12 287.04M286.34 288.98L285.02 287.56M286.02 289.28L285.15 288.35M285.69 289.58L284.39 288.16M259.44 307.33L258.88 306.15M259.04 307.52L258.68 306.76M258.64 307.71L258.02 306.39M258.24 307.89L257.63 306.57M234.79 315.61L234.54 314.38M234.36 315.70L234.14 314.63M233.93 315.79L233.74 314.82M233.49 315.87L233.30 314.86M233.06 315.95L232.90 315.10M204.03 317.40L204.19 315.49M203.59 317.36L203.83 314.68M176.50 311.30L177.14 309.56M176.09 311.15L176.66 309.60M175.67 310.99L176.28 309.36M175.26 310.84L175.75 309.54M174.85 310.68L175.49 309.01M171.16 309.18L172.14 306.90M170.76 309.01L171.51 307.27M170.35 308.83L170.91 307.56M169.95 308.66L170.94 306.40M169.54 308.48L170.55 306.23M162.80 305.17L163.08 304.64M162.41 304.96L162.84 304.17M162.02 304.75L162.53 303.81M133.42 282.10L134.78 280.88M133.13 281.77L134.65 280.41M132.83 281.44L134.08 280.34M132.54 281.10L133.92 279.90M126.75 273.86L128.15 272.84M126.49 273.50L127.63 272.68M126.24 273.14L127.66 272.12M125.98 272.78L127.20 271.91M125.72 272.42L126.81 271.65M120.71 264.62L121.75 264.01M120.49 264.23L122.13 263.29M120.27 263.85L121.31 263.26M120.05 263.47L121.10 262.88M119.83 263.08L121.49 262.16M119.62 262.70L122.58 261.05M118.98 261.53L121.37 260.25M118.77 261.14L122.96 258.91M118.16 259.97L121.08 258.46M117.95 259.58L119.49 258.79M117.75 259.19L119.63 258.23M117.55 258.79L119.94 257.59M117.36 258.40L120.72 256.72M117.16 258.00L120.31 256.45M116.97 257.60L121.75 255.27M116.77 257.21L118.89 256.18M116.58 256.81L119.89 255.23M116.39 256.41L118.85 255.25M116.21 256.01L118.52 254.93M116.02 255.61L117.20 255.06M115.84 255.21L119.07 253.73M115.65 254.80L118.65 253.45M115.47 254.40L119.47 252.61M114.94 253.19L118.50 251.65M114.76 252.78L117.87 251.45M114.59 252.38L116.79 251.45M114.42 251.97L118.72 250.17M114.25 251.56L115.95 250.86M114.08 251.15L116.20 250.29M113.92 250.74L117.58 249.27M113.75 250.33L115.67 249.57M113.59 249.92L116.42 248.81M113.43 249.51L116.01 248.51M113.27 249.10L117.95 247.30M113.11 248.68L116.62 247.35M112.96 248.27L116.15 247.08M112.80 247.86L117.10 246.27M112.65 247.44L116.08 246.19M112.50 247.03L114.52 246.30M112.35 246.61L114.52 245.84M112.20 246.19L115.51 245.03M112.06 245.78L114.37 244.98M111.91 245.36L113.05 244.97M111.77 244.94L114.15 244.14M111.63 244.52L114.16 243.68M111.49 244.10L112.96 243.62M111.36 243.68L112.50 243.31M111.22 243.26L114.62 242.18M111.09 242.84L112.56 242.38M110.96 242.42L112.59 241.91M110.83 242.00L114.31 240.93M110.70 241.57L113.97 240.59M110.57 241.15L112.32 240.63M110.45 240.73L114.90 239.43M110.32 240.30L113.49 239.39M110.20 239.88L113.75 238.87M110.08 239.45L111.24 239.13M109.96 239.03L111.93 238.49M109.85 238.60L111.01 238.29M109.73 238.17L112.05 237.56M109.62 237.75L111.42 237.28M109.19 236.03L112.74 235.17M109.09 235.60L113.48 234.55M108.98 235.17L112.45 234.36M108.88 234.74L111.87 234.06M108.50 233.02L111.12 232.46M108.41 232.59L111.05 232.04M108.32 232.15L112.44 231.31M108.23 231.72L111.03 231.16M108.15 231.29L113.03 230.33M108.06 230.85L110.61 230.37M107.98 230.42L109.91 230.06M107.90 229.99L109.27 229.73M107.82 229.55L109.99 229.16M107.75 229.12L109.22 228.86M107.67 228.68L109.76 228.32M107.60 228.24L108.78 228.05M107.53 227.81L108.71 227.62M107.46 227.37L108.64 227.19M107.39 226.94L110.26 226.50M107.32 226.50L109.46 226.18M107.26 226.06L110.19 225.64M107.19 225.62L108.97 225.37M107.13 225.19L111.34 224.61M107.08 224.75L112.53 224.03M107.02 224.31L110.22 223.90M106.96 223.87L108.67 223.66M106.91 223.43L109.76 223.09M106.86 223.00L110.22 222.61M106.81 222.56L108.56 222.36M106.76 222.12L109.96 221.77M106.71 221.68L112.19 221.11M106.67 221.24L111.66 220.74M106.63 220.80L110.18 220.46M106.59 220.36L111.21 219.94M106.55 219.92L111.31 219.51M106.51 219.48L110.73 219.13M106.48 219.04L111.25 218.67M106.30 216.39L108.93 216.25M106.28 215.95L111.02 215.72M106.26 215.51L110.18 215.33M106.24 215.07L108.56 214.97M106.22 214.63L107.48 214.58M106.21 214.19L108.72 214.10M106.19 213.74L107.61 213.70M106.18 213.30L108.45 213.25M106.17 212.86L109.15 212.80M106.16 212.42L107.67 212.40M106.16 211.98L107.36 211.96M106.15 211.54L108.26 211.52M106.15 211.09L108.11 211.09M106.15 210.65L107.45 210.65M106.15 210.21L108.22 210.22M106.15 209.77L108.49 209.79M106.16 209.33L108.73 209.36M106.17 208.89L109.79 208.95M106.17 208.44L109.62 208.52M106.18 208.00L109.10 208.08M106.20 207.56L109.46 207.66M106.21 207.12L107.41 207.16M106.23 206.68L108.60 206.77M106.24 206.24L111.04 206.44M106.26 205.79L107.46 205.85M106.28 205.35L110.56 205.57M106.31 204.91L108.31 205.02M106.33 204.47L107.53 204.54M106.36 204.03L108.43 204.16M106.39 203.59L108.62 203.74M106.42 203.15L111.90 203.54M106.45 202.71L111.93 203.12M106.48 202.27L109.49 202.50M106.52 201.83L109.37 202.06M106.56 201.39L109.00 201.60M106.60 200.95L109.25 201.19M106.64 200.51L112.11 201.03M106.68 200.07L108.71 200.27M106.72 199.63L109.64 199.93M106.77 199.19L111.19 199.67M106.82 198.75L109.66 199.07M106.87 198.31L109.22 198.58M106.92 197.87L108.11 198.02M106.97 197.43L108.17 197.58M107.03 196.99L108.22 197.15M107.09 196.56L108.78 196.78M107.15 196.12L108.51 196.31M107.21 195.68L108.76 195.90M107.27 195.24L110.18 195.67M107.34 194.81L110.34 195.26M107.40 194.37L108.88 194.60M107.47 193.93L109.84 194.31M107.54 193.50L108.99 193.73M107.61 193.06L111.11 193.64M107.69 192.63L109.32 192.91M107.76 192.19L109.67 192.53M107.84 191.76L110.33 192.20M107.92 191.32L109.39 191.59M108.00 190.89L111.76 191.60M108.08 190.45L112.44 191.29M108.17 190.02L111.06 190.59M108.25 189.59L110.70 190.08M108.34 189.15L113.65 190.24M108.43 188.72L113.81 189.85M108.52 188.29L113.90 189.44M108.61 187.86L113.27 188.87M108.71 187.42L112.22 188.21M108.81 186.99L110.96 187.48M108.91 186.56L111.24 187.10M109.01 186.13L112.70 187.00M109.11 185.70L110.27 185.98M109.21 185.27L114.55 186.58M109.32 184.84L111.83 185.47M109.76 183.13L113.46 184.12M109.87 182.71L113.12 183.59M109.99 182.28L113.28 183.19M110.11 181.85L113.65 182.84M110.23 181.43L113.20 182.27M110.35 181.00L114.13 182.10M110.47 180.58L112.68 181.23M110.60 180.16L112.63 180.76M110.72 179.73L112.08 180.14M110.85 179.31L114.46 180.42M110.98 178.89L113.26 179.60M111.12 178.47L113.61 179.26M111.25 178.05L116.49 179.72M111.38 177.63L115.26 178.89M111.52 177.21L113.18 177.75M111.66 176.79L114.24 177.65M111.80 176.37L115.39 177.58M111.94 175.95L115.59 177.20M112.09 175.53L114.72 176.45M112.23 175.12L114.95 176.07M112.38 174.70L114.63 175.50M112.53 174.28L115.49 175.35M112.68 173.87L115.59 174.93M112.84 173.45L116.82 174.93M112.99 173.04L116.92 174.51M113.15 172.63L116.19 173.78M113.30 172.21L115.21 172.95M113.46 171.80L116.60 173.02M113.62 171.39L116.03 172.34M113.79 170.98L115.59 171.70M113.95 170.57L118.35 172.35M114.12 170.16L118.14 171.80M114.29 169.75L116.49 170.66M114.46 169.34L119.53 171.47M114.63 168.94L119.49 171.00M114.80 168.53L119.86 170.70M115.88 166.11L119.50 167.77M116.06 165.71L119.53 167.31M116.25 165.31L120.98 167.52M116.43 164.91L118.48 165.87M116.62 164.51L118.66 165.48M116.82 164.11L118.92 165.13M117.01 163.71L119.49 164.92M117.20 163.31L121.55 165.46M117.40 162.92L119.84 164.13M117.60 162.52L120.31 163.89M117.80 162.13L119.91 163.21M118.00 161.74L120.51 163.03M118.20 161.34L121.75 163.18M118.41 160.95L120.41 162.00M118.61 160.56L121.26 161.97M118.82 160.17L120.48 161.06M119.03 159.78L120.56 160.61M119.24 159.39L122.28 161.05M119.45 159.01L121.61 160.19M119.67 158.62L122.49 160.19M119.88 158.23L123.99 160.54M120.10 157.85L121.98 158.92M120.32 157.47L124.57 159.90M120.54 157.08L125.13 159.74M120.76 156.70L124.14 158.68M120.98 156.32L124.38 158.32M121.21 155.94L124.73 158.04M121.43 155.56L123.08 156.55M121.66 155.18L123.52 156.31M121.89 154.80L124.29 156.27M122.12 154.43L126.22 156.96M122.36 154.05L126.28 156.50M122.59 153.68L124.88 155.12M122.83 153.31L125.50 155.00M123.06 152.93L126.04 154.84M123.30 152.56L125.74 154.14M123.54 152.19L126.98 154.43M123.79 151.82L127.32 154.15M124.03 151.45L128.61 154.50M124.28 151.09L127.99 153.57M124.52 150.72L128.37 153.32M124.77 150.35L128.02 152.57M125.02 149.99L127.70 151.83M125.27 149.63L129.76 152.74M125.52 149.26L130.03 152.42M125.78 148.90L128.01 150.48M126.03 148.54L130.51 151.73M126.29 148.18L128.83 150.01M126.55 147.82L128.87 149.51M126.81 147.47L129.25 149.25M127.07 147.11L130.95 149.97M127.33 146.76L131.04 149.52M127.60 146.40L129.87 148.11M127.86 146.05L131.03 148.45M128.13 145.70L129.85 147.01M128.40 145.35L130.81 147.21M128.67 145.00L130.87 146.70M128.94 144.65L132.01 147.05M129.22 144.30L131.55 146.15M129.49 143.96L133.68 147.29M129.77 143.61L133.32 146.46M130.04 143.27L132.23 145.04M130.32 142.92L131.50 143.89M130.60 142.58L131.53 143.35M130.89 142.24L132.45 143.54M131.17 141.90L133.59 143.93M131.45 141.57L133.16 143.01M131.74 141.23L134.08 143.23M132.03 140.89L134.77 143.25M132.31 140.56L135.65 143.45M132.60 140.23L135.59 142.84M132.90 139.89L136.78 143.32M133.19 139.56L135.03 141.19M133.48 139.23L137.58 142.90M133.78 138.90L135.31 140.29M134.08 138.58L135.73 140.08M134.37 138.25L136.45 140.16M134.67 137.93L136.49 139.61M134.97 137.60L136.33 138.87M135.28 137.28L137.06 138.96M135.58 136.96L138.44 139.67M135.88 136.64L137.20 137.90M136.19 136.32L137.54 137.63M136.50 136.00L137.66 137.14M136.81 135.69L137.66 136.53M137.12 135.37L140.13 138.36M137.43 135.06L138.96 136.59M137.74 134.75L140.43 137.45M138.05 134.44L139.76 136.16M138.37 134.13L142.18 138.03M138.69 133.82L140.93 136.13M139.00 133.51L140.92 135.50M140.61 132.00L143.01 134.60M140.94 131.70L143.17 134.14M141.26 131.40L143.37 133.72M141.59 131.10L143.31 133.02M141.92 130.81L143.40 132.46M142.25 130.52L144.14 132.66M142.58 130.22L144.97 132.95M142.91 129.93L143.70 130.84M143.25 129.64L145.74 132.52M143.58 129.36L146.16 132.36M143.92 129.07L144.71 130.00M144.26 128.78L145.03 129.70M144.59 128.50L145.95 130.12M144.93 128.22L146.61 130.24M145.28 127.94L147.04 130.08M145.62 127.66L146.67 128.95M145.96 127.38L148.16 130.10M146.30 127.10L148.78 130.19M146.65 126.83L149.05 129.84M147.00 126.55L149.30 129.48M147.34 126.28L149.24 128.70M147.69 126.01L149.24 128.01M148.04 125.74L149.53 127.67M148.39 125.47L150.21 127.85M148.75 125.20L150.82 127.95M149.10 124.94L150.17 126.37M149.45 124.67L151.02 126.79M149.81 124.41L152.78 128.45M150.17 124.15L153.11 128.19M150.52 123.89L153.53 128.06M150.88 123.63L153.65 127.49M151.24 123.38L153.03 125.89M151.60 123.12L154.52 127.26M151.96 122.87L155.11 127.38M152.33 122.62L154.27 125.43M152.69 122.37L155.10 125.88M153.06 122.12L154.52 124.28M153.42 121.87L154.09 122.86M153.79 121.62L154.93 123.33M154.16 121.38L155.53 123.45M154.53 121.14L156.69 124.43M155.64 120.42L157.36 123.11M156.01 120.18L157.20 122.05M156.39 119.94L157.63 121.94M156.76 119.71L158.14 121.93M157.14 119.48L158.74 122.08M157.51 119.25L159.18 121.99M157.89 119.02L158.51 120.04M158.27 118.79L159.31 120.54M158.65 118.56L159.33 119.72M159.03 118.34L160.04 120.05M159.41 118.12L161.40 121.54M159.79 117.90L162.36 122.35M160.18 117.68L162.90 122.45M160.56 117.46L162.71 121.25M160.95 117.24L163.05 121.00M161.33 117.03L162.53 119.19M161.72 116.81L162.78 118.74M162.11 116.60L163.93 119.96M163.27 115.97L164.96 119.17M163.67 115.77L165.66 119.58M164.06 115.57L165.93 119.19M164.45 115.36L165.68 117.76M164.84 115.16L165.60 116.65M165.24 114.96L166.93 118.34M165.63 114.77L166.99 117.50M166.03 114.57L166.56 115.65M166.43 114.38L167.24 116.06M166.82 114.19L167.37 115.31M167.22 113.99L168.40 116.47M169.63 112.89L170.96 115.86M170.03 112.71L171.14 115.21M170.44 112.53L171.96 116.01M170.84 112.35L172.88 117.08M171.25 112.18L172.12 114.21M171.66 112.01L173.15 115.55M172.06 111.84L172.53 112.94M172.47 111.67L173.49 114.15M172.88 111.50L174.29 114.96M173.29 111.33L174.11 113.36M173.70 111.17L175.14 114.80M174.11 111.01L175.56 114.69M174.52 110.85L175.41 113.13M177.01 109.92L178.15 113.09M177.42 109.77L178.85 113.79M177.84 109.62L178.78 112.30M178.26 109.48L179.23 112.28M178.67 109.33L179.60 112.03M179.09 109.19L179.87 111.50M179.51 109.05L180.47 111.95M179.93 108.91L180.89 111.84M180.35 108.78L181.13 111.19M180.77 108.64L181.73 111.65M182.04 108.25L182.84 110.88M182.46 108.12L183.25 110.76M182.88 107.99L183.53 110.18M183.31 107.87L184.12 110.66M183.73 107.75L184.52 110.51M185.44 107.27L186.35 110.66M185.86 107.16L186.68 110.27M186.29 107.05L187.67 112.37M186.72 106.94L187.42 109.69M187.15 106.83L187.66 108.90M187.57 106.72L188.03 108.58M188.00 106.62L188.69 109.46M188.43 106.52L189.00 108.90M188.86 106.41L189.37 108.60M189.29 106.31L189.84 108.70M189.72 106.22L190.10 107.90M190.16 106.12L190.41 107.29M190.59 106.03L191.30 109.33M191.02 105.93L191.76 109.41M191.45 105.84L192.15 109.20M191.88 105.75L192.18 107.21M192.32 105.67L193.27 110.45M192.75 105.58L193.32 108.50M193.18 105.50L193.61 107.74M193.62 105.41L194.08 107.88M194.05 105.33L194.82 109.56M194.49 105.26L194.78 106.87M194.92 105.18L195.24 107.03M195.36 105.11L196.00 108.87M195.79 105.03L196.63 110.07M196.23 104.96L197.07 110.20M196.67 104.89L197.01 107.10M197.10 104.82L197.59 108.04M197.54 104.76L197.84 106.78M197.98 104.69L198.44 107.91M198.41 104.63L198.74 106.98M198.85 104.57L199.20 107.13M199.29 104.51L199.54 106.38M199.73 104.46L199.97 106.34M200.17 104.40L200.49 107.03M200.60 104.35L200.89 106.77M201.04 104.30L201.28 106.35M201.48 104.25L201.90 107.99M201.92 104.20L202.36 108.36M202.36 104.15L202.85 108.91M202.80 104.11L203.23 108.47" stroke="#a684d2" stroke-width="0.7"/><path d="M217.00 103.67L217.05 102.40M217.45 103.68L217.51 102.11M230.62 105.02L231.24 101.29M231.06 105.09L231.66 101.50M254.36 111.80L255.77 108.41M254.77 111.97L255.97 109.12M255.17 112.15L256.02 110.15M275.91 123.84L277.17 122.09M276.27 124.10L277.66 122.19M278.74 125.96L279.88 124.48M279.09 126.23L280.81 124.02M279.44 126.50L281.50 123.87M279.78 126.77L281.20 124.99M286.80 132.84L289.53 129.95M287.12 133.15L288.77 131.42M290.56 136.58L292.96 134.28M290.86 136.90L293.59 134.30M291.17 137.22L294.41 134.16M291.47 137.54L294.64 134.57M291.77 137.86L295.52 134.39M292.07 138.19L296.19 134.39M292.37 138.51L294.26 136.79M292.67 138.84L294.64 137.05M292.96 139.17L293.85 138.37M293.26 139.50L294.88 138.06M294.99 141.50L298.29 138.71M295.28 141.84L296.37 140.92M295.56 142.18L298.13 140.04M295.84 142.52L297.80 140.90M296.12 142.86L298.65 140.79M296.40 143.20L299.60 140.60M296.68 143.55L299.47 141.30M296.96 143.89L299.19 142.11M297.23 144.24L300.01 142.04M297.51 144.58L299.56 142.97M297.78 144.93L299.73 143.41M298.05 145.28L301.49 142.63M298.32 145.63L299.97 144.37M298.58 145.98L302.25 143.20M298.85 146.33L300.94 144.76M299.12 146.69L301.66 144.79M299.38 147.04L302.65 144.62M299.64 147.40L302.33 145.43M299.90 147.76L302.50 145.87M300.16 148.11L301.98 146.81M300.42 148.47L306.50 144.13M300.67 148.83L303.51 146.83M300.93 149.19L304.72 146.53M301.18 149.56L304.09 147.54M301.43 149.92L304.62 147.72M301.68 150.28L304.86 148.11M301.93 150.65L305.12 148.49M302.18 151.02L305.71 148.65M302.42 151.38L306.51 148.66M302.67 151.75L306.30 149.36M302.91 152.12L307.37 149.21M303.15 152.49L307.23 149.85M303.39 152.86L306.20 151.06M303.63 153.23L306.64 151.32M303.86 153.61L306.68 151.83M304.10 153.98L307.04 152.14M304.33 154.36L306.87 152.79M304.56 154.73L307.07 153.20M304.79 155.11L307.58 153.42M305.02 155.49L308.62 153.33M305.25 155.87L309.01 153.63M305.47 156.25L309.66 153.77M305.70 156.63L309.69 154.29M305.92 157.01L308.71 155.40M306.14 157.39L309.31 155.58M306.36 157.78L308.85 156.36M306.58 158.16L307.62 157.57M306.79 158.55L307.94 157.91M307.01 158.93L308.63 158.04M307.64 160.10L311.41 158.07M307.85 160.49L310.30 159.19M308.06 160.88L309.90 159.91M308.26 161.27L312.74 158.94M308.46 161.66L310.66 160.53M308.67 162.05L314.40 159.13M308.86 162.45L313.20 160.26M309.06 162.84L311.74 161.51M309.26 163.24L312.74 161.52M309.45 163.64L312.87 161.97M309.65 164.03L314.28 161.79M309.84 164.43L314.53 162.19M310.03 164.83L315.23 162.36M310.22 165.23L314.40 163.27M310.40 165.63L315.46 163.29M310.59 166.03L313.75 164.58M310.77 166.43L315.25 164.40M310.96 166.84L313.63 165.63M311.14 167.24L313.60 166.14M311.31 167.64L312.45 167.15M311.49 168.05L315.41 166.35M311.67 168.45L315.21 166.93M311.84 168.86L314.24 167.84M312.01 169.27L316.81 167.26M312.18 169.67L314.30 168.80M312.35 170.08L316.63 168.33M312.52 170.49L315.23 169.39M312.68 170.90L315.88 169.62M312.84 171.31L317.41 169.51M313.01 171.72L316.36 170.41M313.17 172.14L316.81 170.73M313.32 172.55L317.56 170.93M313.48 172.96L318.50 171.07M313.64 173.37L316.28 172.39M313.79 173.79L318.03 172.23M313.94 174.20L316.77 173.18M314.09 174.62L319.22 172.79M314.24 175.04L320.20 172.93M314.38 175.45L316.23 174.81M314.53 175.87L315.66 175.48M314.67 176.29L318.69 174.92M314.81 176.71L317.55 175.79M314.95 177.13L319.87 175.50M315.09 177.55L316.23 177.17M315.62 179.23L319.37 178.08M315.75 179.65L318.54 178.81M315.88 180.08L318.50 179.29M316.00 180.50L317.92 179.94M316.13 180.92L317.96 180.39M316.25 181.35L319.06 180.55M316.37 181.77L320.65 180.57M316.49 182.20L320.40 181.12M316.61 182.63L319.26 181.90M316.72 183.05L320.48 182.05M316.83 183.48L318.61 183.01M316.94 183.91L318.11 183.61M317.05 184.34L319.68 183.67M317.16 184.76L321.47 183.69M317.27 185.19L322.02 184.03M317.37 185.62L321.10 184.72M317.48 186.05L322.37 184.89M317.58 186.48L320.80 185.73M317.67 186.91L319.80 186.43M317.77 187.34L320.14 186.81M317.87 187.77L319.79 187.35M317.96 188.21L321.13 187.52M318.05 188.64L319.61 188.31M318.14 189.07L320.46 188.59M318.23 189.50L321.55 188.83M318.32 189.94L320.29 189.55M318.40 190.37L322.53 189.57M318.49 190.80L321.96 190.15M318.57 191.24L319.75 191.02M318.65 191.67L321.36 191.18M318.72 192.11L321.96 191.54M318.80 192.54L322.40 191.92M318.87 192.98L320.46 192.71M318.95 193.41L322.60 192.82M319.02 193.85L322.19 193.35M319.08 194.29L324.16 193.50M319.15 194.72L322.95 194.15M319.22 195.16L322.84 194.63M319.28 195.60L322.17 195.19M319.34 196.04L323.64 195.44M319.40 196.47L323.01 195.99M319.46 196.91L324.93 196.20M319.51 197.35L324.10 196.77M319.57 197.79L325.76 197.04M319.62 198.23L322.41 197.90M319.67 198.67L323.43 198.24M319.72 199.10L323.11 198.74M319.77 199.54L323.07 199.20M319.81 199.98L321.01 199.86M319.86 200.42L322.86 200.13M319.90 200.86L321.09 200.75M319.94 201.30L323.45 200.99M319.97 201.74L324.71 201.35M320.01 202.18L324.44 201.83M320.05 202.62L323.25 202.38M320.08 203.06L326.04 202.64M320.11 203.51L327.59 203.00M320.14 203.95L325.89 203.58M320.16 204.39L324.72 204.12M320.19 204.83L322.24 204.72M320.21 205.27L321.76 205.19M320.23 205.71L322.82 205.59M320.25 206.15L322.25 206.07M320.27 206.59L321.57 206.54M320.29 207.03L322.33 206.96M320.30 207.48L324.54 207.35M320.31 207.92L323.72 207.83M320.32 208.36L324.14 208.28M320.33 208.80L322.37 208.77M320.34 209.24L322.89 209.21M320.35 209.69L322.45 209.67M320.35 210.13L323.33 210.11M320.35 210.57L325.71 210.56M320.35 211.01L325.06 211.02M320.35 211.45L322.09 211.46M320.34 211.89L323.72 211.93M320.34 212.34L321.54 212.35M320.33 212.78L323.52 212.84M320.32 213.22L324.50 213.32M320.31 213.66L324.11 213.77M320.30 214.10L323.32 214.20M320.28 214.54L323.52 214.66M320.26 214.99L325.06 215.18M320.25 215.43L323.80 215.58M320.23 215.87L324.94 216.10M320.20 216.31L323.91 216.50M320.18 216.75L321.38 216.82M320.15 217.19L323.25 217.38M320.13 217.63L325.13 217.96M320.10 218.07L323.74 218.32M320.06 218.51L322.39 218.68M320.03 218.95L323.55 219.23M320.00 219.39L325.14 219.81M319.96 219.84L326.43 220.39M319.92 220.28L322.66 220.52M319.88 220.72L323.13 221.02M319.84 221.15L321.75 221.34M319.79 221.59L321.19 221.74M319.75 222.03L320.94 222.16M319.70 222.47L324.03 222.95M319.65 222.91L322.67 223.26M319.38 225.10L323.35 225.64M319.32 225.54L325.33 226.38M319.25 225.98L322.91 226.51M319.19 226.42L321.48 226.76M318.77 229.03L322.42 229.67M318.69 229.47L320.73 229.83M318.37 231.21L321.82 231.88M318.28 231.64L321.55 232.29M318.20 232.07L322.96 233.04M318.11 232.50L322.93 233.51M318.02 232.94L322.32 233.85M317.92 233.37L320.81 233.99M317.83 233.80L322.71 234.88M317.73 234.23L322.18 235.23M317.63 234.66L320.53 235.33M317.01 237.24L318.35 237.58M316.90 237.67L318.37 238.05M316.79 238.09L318.56 238.56M316.67 238.52L318.44 239.00M316.56 238.95L319.73 239.81M316.44 239.37L318.87 240.05M316.32 239.80L318.29 240.35M316.20 240.22L318.75 240.95M316.08 240.65L319.46 241.63M315.95 241.07L319.58 242.14M315.83 241.49L320.56 242.92M315.70 241.92L321.30 243.62M315.57 242.34L319.37 243.52M315.44 242.76L321.90 244.79M315.31 243.18L318.85 244.31M315.17 243.60L318.54 244.69M315.03 244.02L319.25 245.40M314.90 244.44L320.22 246.21M314.76 244.86L318.09 245.98M314.61 245.28L317.68 246.33M314.47 245.70L316.23 246.31M314.32 246.12L319.17 247.81M314.18 246.53L317.82 247.83M314.03 246.95L317.72 248.28M313.88 247.36L315.68 248.02M313.73 247.78L318.30 249.47M313.57 248.19L315.20 248.80M313.42 248.61L315.83 249.52M313.26 249.02L315.42 249.85M313.10 249.43L314.96 250.15M312.94 249.84L317.23 251.53M312.78 250.25L315.69 251.41M312.61 250.66L316.22 252.11M312.45 251.07L316.47 252.71M312.28 251.48L315.90 252.97M312.11 251.89L314.47 252.87M311.94 252.30L313.61 253.00M311.77 252.70L314.47 253.86M311.59 253.11L314.33 254.29M311.42 253.52L313.80 254.55M311.24 253.92L313.59 254.96M311.06 254.32L316.32 256.67M310.88 254.73L313.70 256.00M310.70 255.13L313.03 256.19M310.52 255.53L314.59 257.41M310.33 255.93L312.88 257.12M310.14 256.33L312.07 257.24M309.95 256.73L312.35 257.87M309.76 257.13L314.54 259.43M309.57 257.53L315.00 260.17M308.98 258.72L312.14 260.30M308.78 259.11L310.79 260.13M308.58 259.50L312.40 261.46M308.38 259.90L312.67 262.12M308.18 260.29L311.60 262.08M307.97 260.68L311.54 262.56M307.77 261.07L310.96 262.77M307.56 261.46L311.38 263.52M307.35 261.85L310.71 263.68M307.13 262.24L309.46 263.51M306.92 262.62L310.34 264.52M306.71 263.01L310.85 265.33M306.49 263.39L309.28 264.97M306.27 263.78L309.98 265.90M306.05 264.16L308.02 265.29M305.83 264.54L309.15 266.47M305.61 264.93L308.96 266.90M305.38 265.31L307.05 266.29M305.16 265.69L308.55 267.71M304.93 266.06L306.48 267.00M304.70 266.44L306.47 267.52M304.47 266.82L307.98 268.98M304.24 267.19L307.53 269.24M304.00 267.57L306.48 269.12M303.77 267.94L306.85 269.89M303.53 268.32L307.81 271.05M303.29 268.69L307.56 271.43M303.05 269.06L307.61 272.02M302.81 269.43L306.92 272.13M302.57 269.80L308.82 273.94M302.32 270.17L305.40 272.22M302.08 270.53L305.18 272.62M301.83 270.90L304.82 272.93M301.58 271.26L302.98 272.23M301.33 271.63L304.35 273.72M301.08 271.99L304.74 274.54M300.83 272.35L303.81 274.45M300.57 272.71L303.06 274.48M300.31 273.07L304.31 275.94M300.06 273.43L301.60 274.54M299.80 273.79L302.40 275.69M299.54 274.15L303.80 277.28M299.27 274.50L301.69 276.29M299.01 274.85L302.33 277.34M298.74 275.21L301.38 277.20M298.48 275.56L302.31 278.48M298.21 275.91L300.01 277.30M297.94 276.26L301.98 279.39M297.67 276.61L300.07 278.49M297.39 276.96L301.02 279.81M297.12 277.30L301.48 280.76M296.85 277.65L302.70 282.34M296.57 277.99L297.97 279.12M296.29 278.34L297.65 279.44M296.01 278.68L299.22 281.32M295.73 279.02L298.06 280.95M295.45 279.36L299.22 282.52M295.16 279.70L300.25 283.99M294.88 280.04L298.06 282.74M294.59 280.37L297.36 282.74M294.30 280.71L297.41 283.39M294.01 281.04L298.61 285.04M293.72 281.37L297.90 285.04M293.43 281.70L297.76 285.54M293.14 282.03L298.05 286.42M292.84 282.36L295.96 285.17M292.55 282.69L297.97 287.62M292.25 283.02L295.85 286.31M291.95 283.34L295.98 287.06M291.65 283.67L294.13 285.98M291.35 283.99L293.52 286.03M291.04 284.31L292.12 285.33M290.74 284.63L293.56 287.32M290.43 284.95L292.63 287.06M290.13 285.27L293.17 288.22M289.82 285.58L291.60 287.33M289.51 285.90L291.23 287.60M289.20 286.21L290.90 287.91M288.89 286.53L291.31 288.96M288.57 286.84L291.49 289.78M288.26 287.15L291.80 290.76M287.94 287.46L289.98 289.55M287.62 287.76L290.72 290.97M287.31 288.07L289.24 290.09M285.37 289.88L287.96 292.73M285.04 290.18L287.31 292.69M284.71 290.47L286.33 292.27M284.38 290.77L286.06 292.66M284.05 291.06L284.85 291.96M283.72 291.35L286.63 294.68M283.39 291.64L286.22 294.91M283.05 291.93L284.05 293.09M282.72 292.22L284.84 294.71M282.38 292.50L283.44 293.76M282.04 292.79L284.63 295.88M281.70 293.07L282.47 293.99M281.36 293.35L282.40 294.61M281.02 293.63L283.03 296.09M280.68 293.91L282.51 296.18M280.33 294.19L283.36 297.95M279.99 294.46L283.11 298.38M279.64 294.74L281.52 297.11M279.30 295.01L281.98 298.44M278.95 295.28L281.59 298.68M278.60 295.55L282.26 300.31M278.25 295.82L282.62 301.55M277.90 296.09L280.72 299.82M277.54 296.35L280.10 299.77M277.19 296.62L279.99 300.39M276.83 296.88L278.82 299.58M276.48 297.14L277.99 299.21M276.12 297.40L277.51 299.32M275.76 297.66L278.76 301.83M275.40 297.92L276.93 300.06M275.04 298.18L276.53 300.29M274.68 298.43L276.74 301.37M274.32 298.68L276.01 301.12M273.96 298.93L275.76 301.56M273.59 299.18L274.77 300.91M273.23 299.43L274.97 302.01M272.86 299.68L275.79 304.05M272.49 299.92L276.64 306.17M272.12 300.17L276.25 306.43M271.75 300.41L275.85 306.69M271.38 300.65L273.99 304.69M271.01 300.89L274.02 305.59M270.64 301.13L271.92 303.15M270.27 301.36L270.91 302.38M269.89 301.60L271.00 303.38M269.52 301.83L270.80 303.90M269.14 302.06L271.50 305.91M268.76 302.29L271.07 306.09M268.38 302.52L269.00 303.55M268.01 302.74L269.01 304.43M267.63 302.97L269.82 306.69M267.24 303.19L269.78 307.54M266.86 303.42L268.87 306.89M266.48 303.64L267.69 305.75M266.10 303.85L267.00 305.45M265.71 304.07L267.70 307.61M265.33 304.29L267.60 308.38M264.94 304.50L266.42 307.20M264.55 304.71L265.28 306.05M264.16 304.92L266.44 309.14M263.77 305.13L266.03 309.36M263.38 305.34L265.81 309.93M262.99 305.55L264.76 308.91M262.60 305.75L263.53 307.54M262.21 305.95L264.53 310.48M261.82 306.16L263.28 309.02M261.42 306.36L263.77 311.01M261.03 306.55L263.06 310.64M260.63 306.75L262.29 310.12M260.23 306.94L262.24 311.04M259.84 307.14L261.16 309.87M257.84 308.08L260.33 313.52M257.44 308.26L259.01 311.73M257.03 308.44L258.75 312.29M256.63 308.62L257.80 311.26M256.23 308.80L258.91 314.93M255.82 308.98L257.41 312.64M255.41 309.15L256.66 312.07M255.01 309.32L256.17 312.06M254.60 309.50L255.38 311.35M254.19 309.67L255.78 313.50M253.78 309.83L255.70 314.52M253.37 310.00L254.30 312.29M252.96 310.16L254.64 314.36M252.55 310.33L254.49 315.24M252.14 310.49L254.18 315.72M251.73 310.65L253.36 314.88M251.32 310.81L253.56 316.70M250.91 310.96L252.14 314.26M250.49 311.12L251.39 313.55M250.08 311.27L251.25 314.47M249.66 311.42L251.07 315.32M249.25 311.57L250.30 314.52M248.83 311.72L250.32 315.94M248.41 311.86L250.22 317.07M247.99 312.01L248.81 314.39M247.58 312.15L249.00 316.36M247.16 312.29L248.06 314.99M246.74 312.43L247.59 315.00M246.32 312.57L247.30 315.59M245.90 312.70L246.91 315.86M245.48 312.84L246.37 315.66M245.06 312.97L245.63 314.80M244.63 313.10L245.41 315.64M244.21 313.23L245.62 317.88M243.79 313.35L244.70 316.44M243.36 313.48L244.35 316.84M242.94 313.60L244.06 317.49M242.51 313.72L244.03 319.06M242.09 313.84L243.41 318.56M241.66 313.96L243.13 319.29M241.24 314.08L241.87 316.40M240.81 314.19L241.69 317.51M240.38 314.31L241.03 316.78M239.96 314.42L240.30 315.76M239.53 314.53L240.26 317.40M239.10 314.63L239.97 318.12M238.67 314.74L239.91 319.82M238.24 314.84L238.96 317.82M237.81 314.95L238.73 318.84M237.38 315.05L238.33 319.16M236.95 315.14L237.58 317.91M236.52 315.24L237.22 318.40M236.09 315.34L236.64 317.87M235.66 315.43L236.35 318.69M235.22 315.52L236.20 320.18M232.62 316.03L233.16 318.97M232.19 316.11L232.40 317.29M231.75 316.19L232.31 319.33M231.32 316.26L231.98 320.16M230.88 316.34L231.46 319.81M230.45 316.41L231.01 319.88M230.01 316.48L230.38 318.81M229.57 316.55L230.22 320.73M229.14 316.62L229.32 317.84M228.70 316.68L229.00 318.77M228.26 316.74L228.43 317.93M227.83 316.80L228.00 318.06M227.39 316.86L227.55 318.05M226.95 316.92L227.43 320.64M226.51 316.98L226.97 320.67M226.07 317.03L226.22 318.22M225.63 317.08L225.77 318.27M225.20 317.13L225.67 321.38M224.76 317.18L225.12 320.56M224.32 317.23L224.50 319.03M223.88 317.27L224.40 322.50M223.44 317.31L223.55 318.51M223.00 317.36L223.46 322.45M222.56 317.39L222.69 318.88M222.12 317.43L222.30 319.59M221.68 317.47L221.89 320.21M221.24 317.50L221.46 320.51M220.80 317.53L221.02 320.69M220.36 317.56L220.55 320.43M219.91 317.59L219.99 318.79M219.47 317.62L219.66 320.76M219.03 317.64L219.29 322.39M218.59 317.67L218.86 323.11M218.15 317.69L218.42 323.63M217.71 317.71L217.95 323.59M217.27 317.72L217.44 322.25M216.83 317.74L216.94 321.09M216.38 317.75L216.45 320.00M215.94 317.77L216.01 320.34M215.50 317.78L215.56 320.50M215.06 317.78L215.10 320.36M214.62 317.79L214.68 322.64M214.18 317.80L214.20 320.79M213.73 317.80L213.75 321.08M213.29 317.80L213.29 322.51M212.85 317.80L212.85 319.16M212.41 317.80L212.39 319.75M211.97 317.79L211.93 321.06M211.52 317.79L211.44 322.98M211.08 317.78L211.02 320.97M210.64 317.77L210.53 322.52M210.20 317.76L210.05 323.19M209.76 317.74L209.51 325.24M209.32 317.73L209.19 321.08M208.88 317.71L208.64 323.49M208.43 317.69L208.30 320.58M207.99 317.67L207.72 323.30M207.55 317.65L207.35 321.36M207.11 317.62L206.91 321.12M206.67 317.60L206.42 321.65M206.23 317.57L206.09 319.73M205.79 317.54L205.35 323.87M205.35 317.51L205.02 321.91M204.91 317.47L204.48 322.90M204.47 317.44L204.22 320.47M203.15 317.32L202.72 321.80M202.71 317.28L202.33 321.09M202.27 317.24L201.93 320.48M201.83 317.19L201.67 318.63M201.39 317.14L201.04 320.29M200.95 317.09L200.44 321.51M200.51 317.04L199.62 324.49M200.07 316.99L199.43 322.12M199.63 316.93L199.06 321.41M199.20 316.87L198.62 321.23M198.76 316.81L198.37 319.62M198.32 316.75L198.05 318.65M197.88 316.69L197.42 319.86M197.45 316.63L196.91 320.23M197.01 316.56L196.47 320.04M196.57 316.49L195.96 320.35M196.14 316.42L195.66 319.38M195.70 316.35L194.88 321.30M195.26 316.28L194.47 320.94M194.83 316.20L194.22 319.70M194.39 316.13L193.94 318.65M193.96 316.05L192.81 322.35M193.52 315.97L192.78 319.95M193.09 315.89L192.72 317.81M192.66 315.80L192.42 317.00M192.22 315.72L191.98 316.95M191.79 315.63L191.32 317.91M191.36 315.54L190.65 318.93M190.93 315.45L190.68 316.62M190.49 315.35L189.98 317.74M190.06 315.26L189.03 319.93M189.63 315.16L188.93 318.25M189.20 315.06L187.98 320.35M188.77 314.96L187.75 319.29M188.34 314.86L187.59 318.02M187.91 314.76L187.30 317.28M187.48 314.65L186.85 317.20M187.05 314.55L186.44 316.96M186.62 314.44L186.03 316.74M186.20 314.33L185.29 317.79M185.77 314.21L184.63 318.51M185.34 314.10L184.37 317.72M184.92 313.98L184.16 316.73M184.49 313.87L183.48 317.49M184.07 313.75L183.39 316.12M183.64 313.63L182.80 316.55M183.22 313.50L182.43 316.20M182.79 313.38L181.67 317.18M182.37 313.25L181.07 317.57M181.95 313.12L180.78 316.95M181.52 312.99L180.38 316.67M181.10 312.86L179.75 317.15M180.68 312.73L179.94 315.06M180.26 312.59L179.31 315.54M179.84 312.46L178.50 316.55M179.42 312.32L178.76 314.29M179.00 312.18L178.52 313.62M178.58 312.03L177.43 315.41M178.17 311.89L177.52 313.76M177.75 311.75L177.09 313.63M177.33 311.60L176.64 313.55M176.92 311.45L176.51 312.58M174.44 310.52L173.82 312.11M174.02 310.36L173.07 312.78M173.61 310.20L172.73 312.41M173.20 310.03L171.00 315.49M172.79 309.86L170.73 314.91M172.38 309.70L171.19 312.58M171.98 309.53L170.51 313.04M171.57 309.36L169.66 313.87M169.14 308.29L167.27 312.43M168.74 308.11L167.94 309.85M168.34 307.93L166.62 311.65M167.94 307.74L166.88 310.01M167.54 307.55L165.20 312.50M167.14 307.36L165.91 309.95M166.74 307.17L165.52 309.71M166.34 306.98L163.68 312.45M165.94 306.79L163.84 311.06M165.55 306.59L163.08 311.56M165.15 306.39L162.74 311.20M164.76 306.19L161.88 311.85M164.37 305.99L163.34 308.00M163.97 305.79L163.21 307.27M163.58 305.59L163.02 306.65M163.19 305.38L161.76 308.08M161.63 304.54L159.13 309.09M161.25 304.33L159.16 308.08M160.86 304.11L159.73 306.13M160.48 303.90L159.49 305.64M160.09 303.68L159.01 305.57M159.71 303.46L157.76 306.84M159.33 303.24L158.19 305.18M158.95 303.01L158.03 304.57M158.57 302.79L156.79 305.79M158.19 302.56L156.05 306.14M157.81 302.33L156.19 305.02M157.43 302.10L154.88 306.29M157.05 301.87L155.01 305.19M156.68 301.64L153.98 305.98M156.30 301.41L154.32 304.57M155.93 301.17L155.21 302.30M155.56 300.93L154.91 301.94M155.19 300.69L154.54 301.70M154.82 300.45L153.40 302.63M154.45 300.21L153.59 301.52M154.08 299.97L152.39 302.51M153.71 299.72L152.76 301.14M153.34 299.48L152.03 301.42M152.98 299.23L152.02 300.64M152.61 298.98L150.68 301.79M152.25 298.73L149.44 302.79M151.89 298.48L151.20 299.46M151.52 298.22L149.55 301.02M151.16 297.97L147.99 302.44M150.80 297.71L148.76 300.56M150.45 297.45L147.47 301.57M150.09 297.19L146.83 301.66M149.73 296.93L146.37 301.50M149.38 296.67L146.49 300.56M149.02 296.41L145.87 300.62M148.67 296.14L146.16 299.46M148.32 295.87L144.78 300.52M147.97 295.60L143.87 300.94M147.62 295.33L144.63 299.19M147.27 295.06L144.42 298.71M146.92 294.79L144.45 297.92M146.58 294.52L143.44 298.46M146.23 294.24L144.85 295.96M145.89 293.96L144.07 296.21M145.54 293.68L141.81 298.25M145.20 293.40L142.17 297.09M144.86 293.12L141.27 297.45M144.52 292.84L141.86 296.02M144.18 292.56L140.81 296.55M143.85 292.27L140.51 296.19M143.51 291.98L141.94 293.81M143.18 291.69L141.25 293.92M142.84 291.40L141.80 292.60M142.51 291.11L139.67 294.34M142.18 290.82L139.90 293.39M141.85 290.53L140.58 291.95M141.52 290.23L139.99 291.93M141.19 289.94L139.35 291.96M140.87 289.64L139.73 290.88M140.54 289.34L138.86 291.15M140.22 289.04L138.74 290.62M139.90 288.74L136.52 292.32M139.57 288.43L137.52 290.60M139.25 288.13L138.30 289.13M138.94 287.82L136.75 290.09M138.62 287.51L135.82 290.40M138.30 287.21L135.01 290.57M137.99 286.90L135.48 289.43M137.67 286.59L135.66 288.60M137.36 286.27L135.56 288.06M137.05 285.96L134.69 288.29M136.74 285.64L135.07 287.28M136.43 285.33L134.92 286.80M136.12 285.01L135.26 285.84M135.82 284.69L134.95 285.52M135.51 284.37L134.64 285.20M135.21 284.05L133.94 285.24M134.91 283.73L133.13 285.39M134.61 283.40L132.05 285.77M134.31 283.08L131.56 285.60M134.01 282.75L130.52 285.92M133.71 282.43L128.64 287.00M132.25 280.77L128.51 284.00M131.96 280.43L128.04 283.80M131.68 280.10L127.70 283.48M131.39 279.76L128.75 281.99M131.11 279.42L128.06 281.97M130.82 279.08L127.28 282.02M130.54 278.74L127.90 280.92M130.26 278.40L129.33 279.16M129.98 278.06L128.16 279.53M129.71 277.71L126.65 280.17M129.43 277.37L125.97 280.12M129.16 277.02L127.11 278.64M128.88 276.68L126.65 278.42M128.61 276.33L126.18 278.22M128.34 275.98L125.06 278.50M128.07 275.63L123.04 279.46M127.81 275.28L124.41 277.84M127.54 274.92L124.98 276.84M127.28 274.57L125.80 275.67M127.01 274.21L124.35 276.17M125.47 272.06L124.11 273.01M125.22 271.70L123.83 272.66M124.97 271.33L123.62 272.26M124.72 270.97L120.05 274.15M124.47 270.60L121.82 272.39M124.22 270.24L121.20 272.26M123.98 269.87L121.19 271.71M123.73 269.50L121.76 270.80M123.49 269.13L121.02 270.74M123.25 268.76L119.61 271.11M123.01 268.39L120.11 270.24M122.78 268.01L119.91 269.83M122.54 267.64L117.21 270.99M122.31 267.27L118.56 269.59M122.07 266.89L118.30 269.22M121.84 266.51L120.12 267.56M121.61 266.14L116.85 269.02M121.39 265.76L119.33 266.99M121.16 265.38L120.13 265.99M120.93 265.00L119.90 265.61M119.41 262.31L117.71 263.24M119.19 261.92L117.46 262.87M118.57 260.75L116.42 261.89M118.36 260.36L115.87 261.67M115.29 254.00L112.36 255.29M115.11 253.59L113.01 254.51M109.51 237.32L107.25 237.90M109.40 236.89L107.38 237.40M109.29 236.46L106.92 237.05M108.79 234.31L107.89 234.52M108.69 233.88L107.71 234.10M108.59 233.45L107.31 233.73M106.44 218.60L104.80 218.72M106.41 218.16L105.02 218.25M106.38 217.72L104.58 217.83M106.35 217.28L104.05 217.42M106.33 216.83L104.95 216.91M109.43 184.42L107.76 184.00M109.53 183.99L107.53 183.47M109.65 183.56L108.06 183.15M114.98 168.12L111.44 166.59M115.15 167.72L112.23 166.44M115.33 167.32L112.72 166.16M115.51 166.91L112.91 165.75M115.69 166.51L112.02 164.85M139.32 133.21L137.05 130.82M139.64 132.90L137.11 130.23M139.96 132.60L138.25 130.77M140.29 132.30L138.52 130.40M154.90 120.89L153.13 118.18M155.27 120.65L153.52 117.95M162.49 116.39L161.75 115.00M162.88 116.18L161.93 114.40M167.62 113.81L167.05 112.59M168.02 113.62L167.10 111.64M168.42 113.43L167.66 111.79M168.83 113.25L168.08 111.60M169.23 113.07L168.42 111.27M174.94 110.69L174.35 109.16M175.35 110.53L174.65 108.68M175.76 110.38L175.01 108.36M176.18 110.22L175.73 109.02M176.59 110.07L176.07 108.63M181.19 108.51L180.32 105.74M181.62 108.38L180.59 105.07M184.16 107.63L182.46 101.62M184.58 107.51L182.72 100.80M185.01 107.39L183.70 102.61" stroke="#7cc60c" stroke-width="0.7"/><path d="M213.25 121.80L213.86 121.88L214.47 121.96L215.09 121.58L215.71 121.28L216.33 121.01L216.96 120.78L217.56 121.15L218.20 120.84L218.81 120.93L219.45 120.69L220.05 120.99L220.66 121.05L221.24 121.50L221.86 121.48L222.52 121.12L223.11 121.44L223.68 121.90L224.29 121.95L224.90 121.99L225.52 122.05L226.17 121.82L226.82 121.69L227.30 122.58L227.89 122.76L228.50 122.85L229.15 122.69L229.86 122.24L230.41 122.66L231.03 122.69L231.63 122.87L232.22 123.04L232.89 122.86L233.46 123.15L234.12 123.04L234.70 123.29L235.27 123.56L235.86 123.76L236.40 124.11L237.05 124.08L237.65 124.21L238.31 124.17L238.83 124.58L239.27 125.25L239.95 125.16L240.48 125.50L241.25 125.13L241.83 125.36L242.39 125.63L242.96 125.87L243.57 125.99L243.93 126.82L244.43 127.24L245.11 127.17L245.60 127.60L246.22 127.69L246.95 127.55L247.58 127.62L248.27 127.58L248.75 128.03L249.23 128.48L249.78 128.76L250.36 128.98L251.04 128.98L251.56 129.32L252.12 129.60L252.63 129.96L253.23 130.12L253.79 130.40L254.20 130.96L255.10 130.56L255.52 131.09L256.06 131.39L256.76 131.41L257.41 131.53L257.70 132.27L258.33 132.43L258.79 132.87L259.41 133.03L260.03 133.21L260.51 133.61L260.88 134.20L261.41 134.52L261.84 135.00L262.48 135.14L263.10 135.33L263.61 135.68L264.24 135.87L264.87 136.04L265.51 136.23L265.89 136.78L266.17 137.45L266.74 137.72L267.42 137.85L267.75 138.44L268.25 138.82L268.75 139.18L269.35 139.44L269.65 140.05L269.99 140.62L270.20 141.35L270.70 141.71L271.41 141.83L271.85 142.27L272.14 142.87L272.64 143.24L272.99 143.77L273.39 144.26L273.82 144.70L274.24 145.15L274.79 145.46L275.39 145.73L275.50 146.50L276.25 146.62L276.50 147.24L276.92 147.69L277.41 148.07L277.94 148.42L278.35 148.88L278.61 149.49L279.29 149.69L279.63 150.22L279.80 150.90L280.19 151.38L280.86 151.60L281.43 151.93L282.14 152.14L282.50 152.65L282.96 153.08L283.30 153.59L283.52 154.21L284.24 154.44L284.70 154.87L285.35 155.15L285.46 155.86L286.40 155.93L286.61 156.56L286.92 157.11L287.00 157.82L287.47 158.25L288.31 158.43L288.15 159.30L288.62 159.74L288.92 160.29L289.49 160.66L289.92 161.13L290.01 161.82L290.61 162.18L291.30 162.49L291.93 162.85L291.63 163.77L292.20 164.16L292.62 164.64L292.55 165.41L292.77 166.00L292.91 166.65L293.21 167.20L293.22 167.90L293.67 168.36L293.94 168.93L294.03 169.59L294.12 170.24L294.63 170.68L294.72 171.33L294.99 171.89L295.36 172.40L295.56 173.00L295.93 173.51L295.75 174.27L296.12 174.79L296.38 175.35L296.49 175.98L297.09 176.40L297.49 176.92L297.60 177.54L297.98 178.06L298.62 178.49L298.66 179.14L298.59 179.84L298.91 180.38L298.95 181.03L299.13 181.63L299.39 182.20L299.60 182.78L299.70 183.41L300.48 183.82L300.59 184.44L300.29 185.18L300.57 185.75L300.73 186.36L301.11 186.90L301.06 187.56L300.84 188.26L301.07 188.84L301.47 189.39L301.51 190.02L301.93 190.56L301.59 191.28L301.82 191.86L302.08 192.45L302.24 193.05L301.85 193.76L301.70 194.42L302.35 194.93L302.53 195.53L302.36 196.19L302.14 196.85L302.17 197.47L302.60 198.04L303.03 198.60L303.26 199.20L302.71 199.90L302.70 200.52L302.35 201.18L302.65 201.77L302.74 202.38L303.04 202.98L303.04 203.60L303.21 204.21L303.31 204.82L303.76 205.42L303.98 206.03L303.69 206.67L303.04 207.32L303.14 207.93L303.63 208.54L303.38 209.16L303.64 209.78L303.72 210.40L303.88 211.02L304.03 211.65L303.54 212.27L303.60 212.89L303.48 213.51L303.34 214.12L303.06 214.73L303.13 215.35L302.89 215.96L302.76 216.57L302.66 217.18L303.18 217.84L302.58 218.41L302.80 219.05L302.74 219.66L302.41 220.25L302.55 220.89L302.51 221.50L301.82 222.04L301.72 222.65L301.47 223.23L301.57 223.86L301.63 224.49L301.73 225.13L301.48 225.72L300.77 226.22L300.64 226.81L300.45 227.40L300.38 228.01L300.13 228.58L300.47 229.27L300.01 229.80L299.40 230.29L299.63 230.97L299.63 231.59L299.27 232.13L299.19 232.74L299.24 233.39L299.10 233.98L298.70 234.51L298.73 235.15L298.79 235.80L298.96 236.50L298.22 236.91L298.19 237.54L298.18 238.18L297.91 238.74L297.70 239.31L297.45 239.88L297.02 240.38L297.08 241.05L296.84 241.61L296.58 242.17L295.82 242.53L295.48 243.05L295.63 243.77L295.09 244.21L294.51 244.62L294.27 245.18L294.72 246.03L294.30 246.51L294.01 247.05L293.72 247.59L292.99 247.92L293.10 248.64L292.71 249.13L292.27 249.59L291.98 250.12L291.99 250.80L291.85 251.42L291.54 251.94L291.29 252.49L290.96 253.01L290.40 253.40L290.05 253.89L289.87 254.49L289.78 255.14L289.43 255.64L289.29 256.26L288.84 256.70L287.93 256.86L287.50 257.30L287.23 257.84L287.00 258.41L286.82 259.01L286.54 259.56L286.13 260.01L285.80 260.51L285.34 260.93L284.71 261.23L284.69 261.96L284.37 262.47L284.08 263.00L283.85 263.59L283.58 264.14L283.27 264.68L282.75 265.04L282.30 265.46L281.60 265.67L281.67 266.51L281.30 266.99L281.01 267.54L280.50 267.90L280.03 268.30L279.51 268.65L279.17 269.15L278.76 269.60L278.28 269.99L277.72 270.29L277.45 270.87L277.02 271.29L277.19 272.29L276.65 272.62L276.01 272.85L275.13 272.83L274.68 273.22L274.38 273.78L273.82 274.07L273.43 274.53L272.96 274.91L272.36 275.15L271.91 275.55L271.42 275.91L271.02 276.35L270.64 276.84L270.27 277.33L269.78 277.69L269.25 278.00L269.00 278.63L268.44 278.91L268.13 279.48L267.63 279.82L267.15 280.19L266.54 280.39L266.18 280.92L265.76 281.36L265.20 281.62L264.76 282.04L264.07 282.11L263.81 282.79L263.35 283.19L262.78 283.44L262.06 283.45L261.40 283.55L261.15 284.26L260.71 284.69L260.28 285.13L259.76 285.45L259.06 285.47L258.32 285.41L257.54 285.28L257.13 285.75L256.53 285.90L255.85 285.91L255.49 286.49L254.91 286.68L254.36 286.91L253.77 287.07L253.17 287.20L252.49 287.18L251.97 287.46L251.39 287.61L250.90 287.95L250.39 288.26L249.71 288.20L249.22 288.56L248.79 289.02L248.28 289.34L247.58 289.20L247.23 289.90L246.56 289.83L245.98 289.97L245.58 290.54L244.92 290.50L244.31 290.54L243.79 290.85L243.36 291.37L242.91 291.88L242.40 292.20L241.83 292.38L241.32 292.73L240.63 292.54L240.08 292.78L239.63 293.33L239.04 293.42L238.32 293.11L237.64 292.89L237.17 293.39L236.62 293.63L236.14 294.09L235.46 293.86L234.95 294.27L234.39 294.46L233.70 294.15L233.15 294.39L232.55 294.42L231.89 294.19L231.33 294.37L230.80 294.71L230.21 294.77L229.63 294.86L228.96 294.52L228.41 294.72L227.83 294.86L227.36 295.57L226.70 295.21L226.21 295.90L225.61 295.90L225.01 295.91L224.42 295.91L223.83 295.96L223.21 295.78L222.64 295.92L222.03 295.77L221.48 296.18L220.90 296.32L220.32 296.54L219.76 296.93L219.15 296.78L218.55 296.68L217.93 296.22L217.34 296.12L216.78 296.79L216.18 296.51L215.59 296.61L214.99 296.45L214.40 296.24L213.81 296.32L213.22 296.37L212.64 296.25L212.05 296.45L211.46 296.26L210.88 296.04L210.29 296.00L209.71 295.81L209.13 295.76L208.53 295.91L207.97 295.49L207.41 295.14L206.83 295.08L206.23 295.27L205.60 295.80L205.02 295.73L204.45 295.53L203.87 295.42L203.32 295.03L202.75 294.93L202.16 294.89L201.56 294.99L201.02 294.61L200.45 294.49L199.89 294.30L199.38 293.86L198.76 294.05L198.17 294.01L197.60 293.88L197.00 293.94L196.46 293.66L195.88 293.60L195.19 294.04L194.61 293.92L194.07 293.69L193.44 293.78L192.94 293.37L192.45 292.91L191.91 292.67L191.30 292.69L190.65 292.88L190.10 292.66L189.60 292.28L189.10 291.90L188.52 291.81L187.97 291.61L187.36 291.60L186.74 291.63L186.18 291.46L185.61 291.33L184.98 291.33L184.50 290.94L183.97 290.68L183.47 290.35L183.07 289.77L182.40 289.86L181.96 289.40L181.52 288.94L181.02 288.63L180.49 288.40L180.04 287.98L179.42 287.95L178.93 287.62L178.32 287.56L177.65 287.62L177.37 286.86L176.85 286.59L176.25 286.50L175.87 285.98L175.46 285.51L174.91 285.32L174.45 284.94L174.05 284.47L173.46 284.36L172.76 284.44L172.37 283.95L171.76 283.86L171.30 283.49L170.96 282.93L170.61 282.39L169.95 282.38L169.40 282.17L168.96 281.79L168.43 281.55L167.84 281.40L167.23 281.27L166.80 280.88L166.24 280.68L165.65 280.51L165.16 280.20L164.85 279.63L164.49 279.14L164.12 278.67L163.52 278.51L162.85 278.44L162.48 277.96L162.14 277.45L161.75 277.02L160.99 277.05L160.76 276.40L160.23 276.14L159.78 275.78L159.44 275.27L159.10 274.79L158.67 274.41L158.23 274.03L157.92 273.51L157.46 273.16L157.08 272.72L156.65 272.34L156.02 272.17L155.68 271.69L155.40 271.15L155.19 270.54L154.54 270.38L154.00 270.11L153.64 269.65L153.54 268.95L153.17 268.51L153.10 267.78L152.61 267.46L152.17 267.09L151.92 266.54L151.28 266.35L150.60 266.19L150.28 265.71L150.03 265.16L149.64 264.74L149.50 264.11L148.97 263.81L148.83 263.18L148.26 262.90L147.78 262.56L147.38 262.14L146.84 261.83L146.48 261.38L145.92 261.08L145.82 260.44L145.18 260.19L144.99 259.61L144.48 259.27L144.25 258.72L144.16 258.08L143.88 257.57L143.33 257.25L143.47 256.47L142.98 256.10L142.82 255.52L142.29 255.17L141.91 254.73L141.87 254.08L141.62 253.56L141.25 253.11L141.31 252.42L141.20 251.82L141.23 251.15L140.89 250.69L140.07 250.49L139.70 250.04L139.83 249.32L139.48 248.86L139.31 248.31L138.60 248.02L138.48 247.44L138.21 246.93L137.91 246.44L137.65 245.94L137.88 245.20L137.67 244.67L137.53 244.10L137.48 243.51L137.31 242.96L137.50 242.27L137.52 241.65L137.20 241.17L136.59 240.81L136.27 240.33L135.99 239.83L135.89 239.26L135.61 238.75L135.04 238.36L134.94 237.78L134.73 237.25L134.75 236.65L134.71 236.07L134.21 235.63L134.04 235.08L134.09 234.47L133.59 234.03L133.53 233.45L133.67 232.82L133.43 232.30L133.55 231.68L133.25 231.17L133.06 230.63L132.15 230.27L132.22 229.66L132.37 229.04L132.35 228.46L132.26 227.90L131.80 227.41L131.84 226.82L131.92 226.23L131.91 225.65L131.71 225.11L131.71 224.53L131.60 223.97L131.27 223.45L131.48 222.84L131.20 222.30L131.10 221.74L130.70 221.22L130.70 220.64L130.88 220.05L131.05 219.46L130.76 218.91L130.91 218.33L130.75 217.77L130.78 217.20L130.68 216.63L131.27 216.03L131.21 215.46L131.47 214.88L131.22 214.33L130.88 213.78L130.65 213.22L130.63 212.65L130.35 212.09L130.48 211.52L130.41 210.95L130.60 210.38L130.75 209.81L130.19 209.24L130.49 208.67L130.64 208.11L130.91 207.55L130.83 206.98L130.18 206.38L130.19 205.80L130.24 205.23L129.59 204.61L129.50 204.03L129.69 203.46L130.05 202.92L130.40 202.38L130.41 201.80L130.54 201.24L130.76 200.69L130.73 200.11L130.57 199.51L130.19 198.88L130.15 198.29L130.72 197.79L130.80 197.23L131.27 196.72L130.76 196.05L130.74 195.46L130.86 194.90L131.16 194.37L131.53 193.86L131.13 193.19L130.95 192.55L131.38 192.06L131.57 191.51L131.33 190.86L131.76 190.37L132.32 189.92L132.53 189.38L132.81 188.86L133.03 188.32L133.24 187.79L133.96 187.40L134.05 186.84L134.17 186.28L133.94 185.61L134.22 185.10L134.55 184.61L135.19 184.22L135.55 183.75L135.69 183.20L135.84 182.65L136.14 182.16L136.32 181.62L136.06 180.92L136.09 180.32L136.09 179.70L136.26 179.15L136.43 178.60L136.69 178.09L137.01 177.61L136.75 176.87L137.37 176.52L137.94 176.15L138.18 175.63L138.28 175.05L138.06 174.31L138.60 173.94L139.16 173.57L139.66 173.19L139.89 172.67L139.85 172.01L139.90 171.39L140.21 170.91L140.92 170.64L141.21 170.15L140.99 169.37L141.21 168.84L141.35 168.26L141.90 167.92L141.88 167.24L142.16 166.73L142.62 166.35L142.88 165.83L142.83 165.11L143.35 164.77L143.67 164.28L144.05 163.85L144.15 163.22L144.62 162.84L144.77 162.25L145.26 161.89L145.14 161.09L145.54 160.67L145.77 160.11L145.97 159.54L146.36 159.11L147.05 158.91L147.14 158.24L147.67 157.92L148.04 157.48L148.31 156.95L148.61 156.45L149.04 156.05L149.03 155.28L149.21 154.66L149.95 154.53L150.09 153.87L150.85 153.78L151.46 153.55L152.08 153.34L152.42 152.87L152.66 152.30L153.07 151.89L153.48 151.49L153.62 150.80L153.77 150.12L154.32 149.86L154.83 149.54L155.15 149.03L155.55 148.62L155.94 148.18L156.27 147.67L156.63 147.20L156.96 146.68L157.28 146.16L157.88 145.95L158.21 145.44L158.79 145.22L159.12 144.70L159.50 144.24L159.78 143.64L160.48 143.58L161.25 143.61L161.42 142.88L162.00 142.68L162.34 142.16L162.96 142.01L163.45 141.69L163.45 140.67L163.99 140.41L164.17 139.64L164.67 139.32L165.22 139.06L165.62 138.61L166.39 138.69L166.81 138.25L167.26 137.86L167.99 137.92L168.55 137.70L169.04 137.37L169.52 137.02L170.06 136.78L170.61 136.56L170.91 135.89L171.47 135.68L171.98 135.38L172.42 134.96L173.08 134.93L173.37 134.23L173.95 134.04L174.62 134.08L175.00 133.51L175.52 133.21L176.14 133.15L176.61 132.76L177.16 132.54L177.77 132.45L178.17 131.90L178.66 131.53L179.11 131.07L179.63 130.78L180.32 130.89L180.84 130.58L181.43 130.46L182.06 130.44L182.41 129.69L182.83 129.13L183.44 129.05L184.17 129.32L184.71 129.05L185.14 128.47L185.64 128.09L186.34 128.29L186.74 127.59L187.60 128.34L188.14 128.09L188.67 127.78L189.27 127.71L189.66 126.90L190.44 127.48L191.03 127.38L191.64 127.39L192.19 127.15L192.75 126.94L193.32 126.78L193.86 126.48L194.40 126.18L194.99 126.09L195.48 125.51L196.13 125.71L196.69 125.47L197.23 125.13L197.86 125.23L198.43 125.03L198.99 124.75L199.60 124.74L200.14 124.34L200.75 124.37L201.33 124.20L201.92 124.09L202.51 123.96L203.11 123.92L203.66 123.40L204.22 122.93L204.82 122.80L206.15 136.74L203.11 137.10L200.08 137.58L197.08 138.18L194.10 138.91L191.16 139.76L188.25 140.73L185.39 141.82L182.57 143.03L179.81 144.35L177.10 145.79L174.45 147.33L171.87 148.99L169.36 150.75L166.93 152.61L164.57 154.57L162.30 156.62L160.11 158.77L158.01 161.01L156.01 163.33L154.11 165.73L152.30 168.20L150.60 170.75L149.01 173.37L147.52 176.05L146.15 178.79L144.89 181.59L143.75 184.43L142.72 187.32L141.82 190.25L141.04 193.21L140.38 196.20L139.84 199.22L139.43 202.26L139.15 205.31L138.99 208.37L138.95 211.43L139.05 214.50L139.27 217.55L139.61 220.60L140.08 223.63L140.68 226.63L141.40 229.61L142.24 232.56L143.20 235.47L144.28 238.34L145.48 241.16L146.79 243.93L148.22 246.64L149.76 249.29L151.40 251.88L153.15 254.39L155.01 256.83L156.96 259.19L159.01 261.47L161.15 263.67L163.37 265.77L165.69 267.78L168.08 269.69L170.55 271.51L173.10 273.22L175.71 274.82L178.39 276.31L181.12 277.69L183.91 278.96L186.75 280.11L189.64 281.15L192.56 282.06L195.52 282.85L198.51 283.52L201.53 284.07L204.56 284.49L207.61 284.79L210.67 284.96L213.74 285.00L216.80 284.92L219.86 284.71L222.91 284.37L225.94 283.91L228.94 283.32L231.93 282.61L234.88 281.78L237.79 280.83L240.66 279.76L243.48 278.57L246.26 277.27L248.97 275.85L251.63 274.32L254.22 272.68L256.74 270.94L259.19 269.10L261.56 267.15L263.85 265.11L266.05 262.98L268.16 260.76L270.18 258.45L272.10 256.06L273.92 253.60L275.63 251.06L277.24 248.45L278.75 245.78L280.14 243.05L281.42 240.26L282.58 237.43L283.62 234.55L284.54 231.62L285.35 228.67L286.02 225.68L286.58 222.66L287.01 219.63L287.32 216.58L287.50 213.52L287.55 210.46L287.48 207.39L287.28 204.33L286.95 201.29L286.50 198.25L285.92 195.24L285.23 192.26L284.40 189.31L283.46 186.39L282.40 183.52L281.22 180.69L279.92 177.91L278.52 175.19L277.00 172.53L275.37 169.93L273.63 167.41L271.80 164.95L269.86 162.58L267.83 160.28L265.70 158.08L263.49 155.96L261.19 153.93L258.80 152.00L256.35 150.18L253.81 148.45L251.21 146.83L248.54 145.32L245.82 143.92L243.04 142.63L240.20 141.46L237.33 140.41L234.41 139.48L231.45 138.66L228.47 137.97L225.45 137.41L222.42 136.97L219.37 136.65L216.31 136.46L213.25 136.40Z" fill="#66c9cb" stroke="none"/></g><g stroke="#222" stroke-width="0.18" font-size="7.35" fill="#222"><rect x="478.9" y="170.35" width="8.9" height="8.6" fill="#66c9cb" stroke="none"/><text x="492.2" y="177.25">Coverage</text><rect x="478.9" y="183.65" width="8.9" height="8.6" fill="#b18fd3" stroke="none"/><text x="492.2" y="190.55">GC skew(G&lt;C)</text><rect x="478.9" y="196.95" width="8.9" height="8.6" fill="#7cc60c" stroke="none"/><text x="492.2" y="203.85">GC skew(G&gt;=C)</text><rect x="478.9" y="210.25" width="8.9" height="8.6" fill="#fa0f78" stroke="none"/><text x="492.2" y="217.15">GC(&lt;50%)</text><rect x="478.9" y="223.55" width="8.9" height="8.6" fill="#19e0c9" stroke="none"/><text x="492.2" y="230.45">Crispr</text><rect x="478.9" y="236.85" width="8.9" height="8.6" fill="#3bb769" stroke="none"/><text x="492.2" y="243.75">Genomic Island</text><rect x="478.9" y="250.15" width="8.9" height="8.6" fill="#28c5d8" stroke="none"/><text x="492.2" y="257.05">Prophage</text><rect x="478.9" y="263.45" width="8.9" height="8.6" fill="#f56edc" stroke="none"/><text x="492.2" y="270.35">rRNA</text><rect x="478.9" y="276.75" width="8.9" height="8.6" fill="#ff8433" stroke="none"/><text x="492.2" y="283.65">tRNA</text><rect x="478.9" y="290.05" width="8.9" height="8.6" fill="#109bef" stroke="none"/><text x="492.2" y="296.95">Reverse CDS</text><rect x="478.9" y="303.35" width="8.9" height="8.6" fill="#ffb010" stroke="none"/><text x="492.2" y="310.25">Positive CDS</text></g></svg></body></html>
